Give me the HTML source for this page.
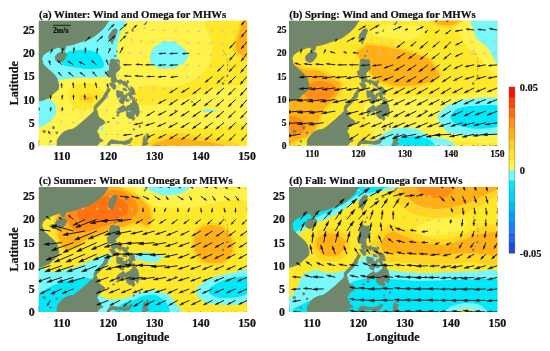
<!DOCTYPE html><html><head><meta charset="utf-8"><title>Wind and Omega for MHWs</title><style>html,body{margin:0;padding:0;background:#fff}svg{display:block}</style></head><body><svg width="550" height="351" viewBox="0 0 550 351"><rect width="550" height="351" fill="#fff"/><clipPath id="cpa"><rect x="38.8" y="20.8" width="208.3" height="125"/></clipPath><g clip-path="url(#cpa)"><rect x="37.8" y="19.8" width="210.3" height="127" fill="#fff34b"/><path d="M206,20C201.1,22.7 210.2,35.5 211,40C211.8,44.5 212.5,50.3 212,54C211.5,57.7 209.4,64.5 207,68C204.6,71.5 198.7,77.5 194,80C189.3,82.5 177.9,86.3 172,87C166.1,87.7 154.5,84.9 150,85C145.5,85.1 140.3,86.4 138,88C135.7,89.6 133,94.7 133,97C133,99.3 134,104.1 138,105C142,105.9 157,104.8 163,104C169,103.2 177.7,100.6 183,99C188.3,97.4 197.7,93.7 203,92C208.3,90.3 217,87.6 223,86C229,84.4 244.7,88.8 248,80C251.3,71.2 253.6,28 248,20C242.4,12 210.9,17.3 206,20Z" fill="#ffe82a"/><path d="M243.5,20C242.6,21.7 237.7,37.8 237,40C236.3,42.2 235.4,45.9 235.5,47C235.6,48.1 237.5,52.2 238.5,53C239.5,53.8 247.2,59.8 248,57C248.8,54.2 248.4,23.1 248,20C247.6,16.9 244.4,18.3 243.5,20Z" fill="#ffb016" stroke="#ffd422" stroke-width="6" stroke-linejoin="round" paint-order="stroke"/><path d="M135,147C120.6,145.4 138,137.1 140,135C142,132.9 146.9,132.2 150,131.5C153.1,130.8 158.6,130.3 163,130C167.4,129.7 177.7,129.3 183,129C188.3,128.7 197.7,128.3 203,128C208.3,127.7 217,127.4 223,127C229,126.6 244.7,122.3 248,125C251.3,127.7 263.1,144.1 248,147C232.9,149.9 149.4,148.6 135,147Z" fill="#ffe82a"/><path d="M146,147C134.8,146.1 149.5,141.7 152,140C154.5,138.3 161.3,135.4 165,134.5C168.7,133.6 175.3,132.8 180,133C184.7,133.2 195.3,135.3 200,136C204.7,136.7 210.7,137.2 215,138C219.3,138.8 229.2,140.8 232,142C234.8,143.2 247.5,146.3 236,147C224.5,147.7 157.2,147.9 146,147Z" fill="#ffd422"/><path d="M153,147C144.6,146.1 159.8,141.8 163,140.5C166.2,139.2 173,137.6 177,137.5C181,137.4 188.7,139.4 193,140C197.3,140.6 204.6,141.1 209,142C213.4,142.9 233.5,146.3 226,147C218.5,147.7 161.4,147.9 153,147Z" fill="#ffb016"/><path d="M200.5,110.5C200.5,110.2 207.5,109.2 209,109.2C210.5,109.2 218,110.7 218,111C218,111.3 210.5,112.6 209,112.6C207.5,112.6 200.5,110.8 200.5,110.5Z" fill="#78f8fa"/><path d="M149.8,56C149.9,55.3 152.5,48.6 153,48C153.5,47.4 161.4,42.3 162.2,42C163,41.7 172.2,41 173,41.2C173.8,41.4 180.3,45.5 181,46C181.7,46.5 188.8,53.3 189,54C189.2,54.7 185.6,61.4 185,62C184.4,62.6 176.1,67.7 175,68C173.9,68.3 160,68.7 159,68.5C158,68.3 151.4,64.5 151,64C150.6,63.5 149.7,56.7 149.8,56Z" fill="#78f8fa"/><path d="M109,20C117.8,20 125.2,19 126.5,20C127.8,21 122.4,28 121.6,30C120.8,32 118.9,38 118.4,40C117.9,42 117.1,48.1 117,50C116.9,51.9 117.8,57.4 117.6,59C117.4,60.6 115.6,64.5 115,66C114.4,67.5 112.7,73 112,74C111.3,75 109.4,76.2 108,76.5C106.6,76.8 101,77.2 98,77.4C95,77.6 81.4,77.8 78,78C74.6,78.2 66.1,79 64,79.2C61.9,79.4 59.6,79.9 57,80C54.4,80.1 39.9,86 38,80C36.1,74 30.9,26 38,20C45.1,14 100.2,20 109,20Z" fill="#78f8fa"/><path d="M62,61C62.5,59.4 65.4,53.3 68,52C70.6,50.7 80.5,49.9 84,50C87.5,50.1 95.7,51.5 98,53C100.3,54.5 103.5,61.2 104,63C104.5,64.8 103.9,67.3 102,68C100.1,68.7 91.5,69.1 88,69C84.5,68.9 74.8,67.4 72,67C69.2,66.6 65.2,66.3 64,65.6C62.8,64.9 61.5,62.6 62,61Z" fill="#00e8fa"/><path d="M38,101C39.4,97.8 47.9,99.4 50,100C52.1,100.6 55.4,104.1 56,106C56.6,107.9 55.9,114 55,116C54.1,118 50,121.7 48,123C46,124.3 39.2,129.6 38,127C36.8,124.4 36.6,104.2 38,101Z" fill="#78f8fa"/><path d="M99.5,127C99.7,126.9 103.8,127.3 104,127.5C104.2,127.7 103.2,130.4 103,130.5C102.8,130.6 100.2,130.2 100,130C99.8,129.8 99.3,127.1 99.5,127Z" fill="#78f8fa"/><path d="M68,92C68.8,90 72.3,86.2 75,85C77.7,83.8 84.7,82.7 88,83C91.3,83.3 97.7,85.3 100,87C102.3,88.7 105.5,93.5 105,96C104.5,98.5 98.8,104.1 96,106C93.2,107.9 86.9,109.9 84,110C81.1,110.1 76,108.3 74,107C72,105.7 69.8,102 69,100C68.2,98 67.2,94 68,92Z" fill="#ffe82a"/><path d="M79,98C79.1,96.9 82.4,94 84,93.5C85.6,93 89.4,93.3 91,94C92.6,94.7 96.1,97.4 96,98.5C95.9,99.6 91.7,102 90,102.5C88.3,103 84.5,102.6 83,102C81.5,101.4 78.9,99.1 79,98Z" fill="#ffd422"/><path d="M83,98.5C83,98.2 86.2,97 87,97C87.8,97 92,98.2 92,98.5C92,98.8 87.8,100 87,100C86.2,100 83,98.8 83,98.5Z" fill="#ffb016"/><path d="M38.8,16.2L111.5,16.2L109.2,19.9L106.9,23.6L104.1,27.7L100.8,31L96.2,34.7L91.6,37.9L87.4,39.8L82.8,41.2L78.6,42.6L74.9,43.9L69.8,45.3L66.1,45.8L65.2,48.1L64.7,50.4L61.9,50.9L61,49L60.6,47.2L57.3,47.6L53.2,49L49,50.9L45.3,53.2L43,55.5L41.8,58.3L42.7,63.4L44.8,66.2L47.1,68L49.4,70.3L52,72.4L54.5,75L56.9,78.2L58,81.9L58.9,86.1L58.2,89.3L56.4,91.2L54.5,92.6L51.8,95.3L49,97.9L45.7,99L43,100.2L40.2,100.9L38.8,100.9ZM55.2,56.9L57.3,53.9L60.6,52.3L64.7,52L66.8,54.6L65.2,58.3L62.9,61.1L59.6,62.5L55.9,60.6ZM112.9,29.8L115.4,28.7L117.3,30.1L116.8,32.4L115.7,35.1L114.7,38.8L112.9,41.6L112.2,44.2L111.3,42.6L109.4,40.2L108.7,37.5L109.6,34.2L111.5,31.9ZM110.6,59.7L112.9,59L115.7,60.1L118.9,59.7L119.6,62.9L119.1,65.7L120.3,67.1L119.4,69.9L117,71.7L115.7,73.1L115.7,76.4L116.4,79.6L118.4,80.5L120.3,79.6L122.1,81L124.5,81.4L126.3,82.1L127.5,85.1L127.2,87.5L125.4,86.1L123.5,85.1L121.7,82.8L119.8,83.3L120.3,84.7L118.4,82.8L116.6,81.4L114.3,82.8L111.5,81.7L111,79.1L112.6,78.2L111,77L108.9,77.3L107.8,74.5L107.1,71.3L108.2,70.6L109.6,71.5L109.6,68.5L109.6,64.8ZM109.2,83.3L112.9,82.8L115.7,85.1L115.7,88.4L113.8,89.5L112,87.5L110.6,85.6ZM127.7,87.2L132.3,87L134.2,89.8L135.1,94.4L131.9,94.6L130.9,92.6L129.1,90.2ZM128.2,92.6L131.2,93L131.9,95.3L132.8,98.6L130.9,99.7L130,97.2L128.6,95.3ZM123.1,87.9L126.3,89.1L127,90.9L124.9,90.2L123.1,90.2ZM116.6,90.5L119.8,91.2L123.1,92.1L122.6,94.9L120.8,96.7L117.5,97.9L116.8,94.9ZM121.2,94.6L124.7,95.1L124,99.5L123.3,104.1L120.1,102.7L119.1,100L121,98.1ZM126.8,93.2L127.5,95.3L125.6,99.5L123.5,102.5L123.5,100L124.9,96.7ZM125.8,99.7L128.2,98.8L129.5,100.4L128.2,101.4L126.1,101.1ZM93.9,109.7L94.4,106.4L97.1,103.2L100.4,100L103.2,96.7L104.5,93.9L106.4,91.2L107.8,88.6L110.1,88.9L109.6,91.2L107.8,93.5L107.1,97.2L104.5,99.5L102.2,102.3L99.5,105.1L97.1,107.4L95.3,109.7ZM107.3,88.9L109.6,89.3L109.2,90.7L107.6,90.5ZM132.8,99.5L135.6,101.4L137.9,104.6L138.8,109.2L139.3,112.9L137.4,117.1L136,114.8L134.9,113.4L133.7,115.7L134.9,118.5L133.3,120.6L131.9,118.7L129.1,118.3L126.8,116.2L126.3,112.9L127.2,111.5L124.9,110.6L123.1,111.8L120.8,112L118,114.5L116.8,112.5L117.5,109.2L120.8,106.9L123.5,105.3L125.8,107.4L128.2,105.5L130.2,105.5L130.2,103.7L132.3,103.4ZM116.6,115L118.9,115L118.4,115.9L116.8,115.9ZM112.4,117.8L114.7,118L114.3,118.7L112.4,118.5ZM107.3,121.5L109.4,121.7L109.2,122.4L107.3,122.2ZM56.9,150.4L57.3,140L59.2,137L62.9,132.6L68,130.1L73.1,129.1L77,126.4L80.9,123.1L85.1,119.6L89,115.9L92.5,112.9L94.6,110.1L96.7,109.7L97.6,113.2L98.5,116.6L100.8,118.7L104.1,120.8L105,122.7L102.2,125L99,126.4L98.1,129.1L96.7,131.4L99,135.2L99,137.5L103.2,140.7L99.9,142.1L97.6,144.9L96.7,150.4ZM106.9,150.4L107.3,144.9L108.7,142.1L111.5,139.8L114.7,140.5L119.4,141.2L123.5,141.4L128.2,140.2L131.4,137.7L132.6,138.9L129.5,143.5L124.9,144.4L119.8,143.5L114.7,143.5L111,143.5L109.2,145.8L108.7,150.4ZM142.5,150.4L143,141.6L143.4,137.9L144.8,135.6L145.5,138.4L148.5,138.6L146.7,141.6L148.5,143.9L146.2,144.4L145.1,150.4ZM146.2,134.2L148.1,133.8L148.5,136.1L146.7,136.5ZM139.3,125.4L140.2,125L140.2,127.7L139.3,127.3ZM133.3,128.7L134.4,128.7L134.2,130.3L133.3,130.1ZM52.7,126.4L54.5,126.8L54.3,128.7L52.7,128.7ZM43,130.5L45.3,130.5L45.3,132.4L43,132.4ZM55.9,131.9L57.8,131.9L57.3,133.8L55.9,133.3ZM49.9,140.7L51.3,140.7L51.3,142.1L49.9,142.1ZM38.3,140.2L38.8,140.2L38.8,150.4L38.3,150.4ZM155.9,145.6L160.6,145.8L160.6,150.4L155.9,150.4ZM116.6,50.9L117.5,50.9L117.5,51.8L116.6,51.8ZM114.3,55.5L115.7,55.5L115.4,56.7L114.3,56.4ZM143.9,24.5L146.7,21.5L146.7,22.6L144.8,25ZM132.3,30.5L133.7,30.7L133.3,31.4L132.3,31.2ZM125.4,32.6L128.2,32.1L127.7,33.3L125.6,33.5ZM222.1,82.8L223.8,82.8L223.5,84.5L222.4,84.5ZM227,75L227.9,75L227.7,76.4L226.8,76.4ZM174.9,110.1L176.3,110.1L175.8,112L174.9,112ZM191.6,101.4L192.7,101.4L192.5,102.3L191.6,102.3ZM127,80.5L128.6,81L128.2,83.1L127,82.8ZM135.8,99.5L136.7,99.5L136.5,100.9L135.8,100.9ZM133.7,97.6L134.6,97.6L134.4,99.7L133.7,99.7ZM224.8,80.1L225,80.1L225,80.5L224.8,80.5ZM226.8,76.4L227,76.4L227,76.8L226.8,76.8ZM227.1,69.9L227.3,69.9L227.3,70.3L227.1,70.3ZM227.6,68.3L227.8,68.3L227.8,68.7L227.6,68.7ZM227.8,65.5L228,65.5L228,65.9L227.8,65.9ZM227.6,64.1L227.8,64.1L227.8,64.5L227.6,64.5ZM227.6,61.8L227.8,61.8L227.8,62.2L227.6,62.2ZM226.9,58.7L227.1,58.7L227.1,59.1L226.9,59.1ZM225.8,54.4L225.9,54.4L225.9,54.8L225.8,54.8ZM224.8,53L225,53L225,53.4L224.8,53.4ZM223.4,50.7L223.6,50.7L223.6,51.1L223.4,51.1Z" fill="#70876c" stroke="#70876c" stroke-width="0.9" stroke-linejoin="round"/><path d="M38.8,145.8L38.2,144.7M50.4,145.8L49.7,144.9M108.2,145.8L106.5,145.7M119.8,145.8L118,146M38.8,134.2L38.1,132.9M108.2,134.2L106.7,134.3M119.8,134.2L118,134.4M38.8,122.7L38.5,121.2M50.4,122.7L50,121.3M61.9,122.7L61.8,122.2M73.5,122.7L74,122.8M108.2,122.7L107,123.1M119.8,122.7L118,122.8M131.4,122.7L129.6,123M73.5,111.1L73.3,109.5M85.1,111.1L84.9,109.7M108.2,111.1L107.3,110.6M119.8,111.1L118.1,110.6M131.4,111.1L129.6,111.2M143,111.1L141.3,111.7M108.2,99.5L107.3,98.2M119.8,99.5L118.5,99.1M131.4,99.5L129.6,99.2M143,99.5L141.2,99.8M154.6,99.5L152.9,100.2M119.8,87.9L118.5,86.7M131.4,87.9L129.6,87.6M143,87.9L141.2,87.8M154.6,87.9L152.8,88.2M166.1,87.9L164.4,88.5M119.8,76.4L118.4,75.3M189.3,76.4L187.6,76.9M200.8,76.4L199.3,77.3M119.8,64.8L118.8,63.3M189.3,64.8L187.5,65M200.8,64.8L199.2,65.4M212.4,64.8L211,65.9M131.4,53.2L129.6,53.1M143,53.2L141.2,53M154.6,53.2L152.8,53.3M200.8,53.2L199.1,53.7M212.4,53.2L211.1,54.4M224,53.2L222.8,54.6M131.4,41.6L131.6,39.9M143,41.6L142,41.2M154.6,41.6L153.2,42.1M166.1,41.6L164.3,41.8M177.7,41.6L175.9,41.9M189.3,41.6L187.7,42.6M200.8,41.6L199.2,42.4M212.4,41.6L211,42.8M224,41.6L222.7,42.9M143,30.1L144.2,28.7M154.6,30.1L153.8,30.1M166.1,30.1L164.3,30.2M177.7,30.1L175.9,30.4M189.3,30.1L187.7,30.8M200.8,30.1L199.3,30.9M212.4,30.1L211.1,31.2M224,30.1L222.7,31.3M235.6,30.1L234.3,31.4M143,18.5L144.2,17.2M154.6,18.5L154.5,18.4M166.1,18.5L165,18.3M177.7,18.5L175.9,18.7M189.3,18.5L187.6,19.1M200.8,18.5L199.3,19.3M212.4,18.5L211,19.6M224,18.5L222.7,19.7M235.6,18.5L234.3,19.8" stroke="#c4c4bc" stroke-width="0.65" fill="none"/><path d="M37.1,142.9L38.8,144.4L37.6,145.1ZM48.5,143.2L50.3,144.4L49.1,145.3ZM104.4,145.6L106.5,145L106.4,146.4ZM115.9,146.2L118,145.3L118.1,146.7ZM37.2,131.1L38.8,132.6L37.5,133.3ZM104.6,134.5L106.6,133.6L106.7,135ZM115.9,134.7L118,133.7L118.1,135.1ZM38,119.1L39.2,121L37.8,121.3ZM49.4,119.3L50.6,121.1L49.3,121.5ZM61.1,120.2L62.4,121.9L61.1,122.4ZM71.9,122.2L74.2,122.1L73.8,123.4ZM105,123.7L106.7,122.4L107.2,123.7ZM115.9,123L118,122.1L118.1,123.5ZM127.6,123.3L129.5,122.3L129.7,123.6ZM73.1,107.4L74,109.4L72.6,109.6ZM84.5,107.7L85.5,109.6L84.2,109.8ZM105.5,109.6L107.6,110L107,111.2ZM116.1,110.1L118.3,109.9L118,111.3ZM127.5,111.4L129.6,110.5L129.7,111.9ZM139.3,112.3L141,111L141.5,112.3ZM106.1,96.5L107.9,97.8L106.7,98.6ZM116.5,98.4L118.8,98.4L118.3,99.7ZM127.6,98.8L129.7,98.5L129.5,99.9ZM139.1,100.2L141.1,99.2L141.3,100.5ZM151,101L152.6,99.6L153.2,100.8ZM116.9,85.3L118.9,86.2L118,87.3ZM127.6,87.2L129.8,86.9L129.5,88.3ZM139.1,87.8L141.2,87.1L141.1,88.5ZM150.7,88.4L152.7,87.5L152.9,88.9ZM162.4,89.1L164.2,87.8L164.6,89.2ZM116.7,74.1L118.8,74.7L118,75.9ZM185.6,77.6L187.3,76.3L187.8,77.6ZM197.5,78.4L199,76.7L199.7,77.9ZM117.6,61.6L119.4,62.9L118.2,63.7ZM185.4,65.4L187.4,64.4L187.6,65.7ZM197.2,66.2L198.9,64.8L199.4,66.1ZM209.4,67.2L210.6,65.4L211.5,66.4ZM127.5,52.9L129.7,52.4L129.5,53.7ZM139.1,52.8L141.3,52.3L141.1,53.7ZM150.7,53.4L152.7,52.6L152.8,54ZM197.1,54.2L198.9,53L199.3,54.4ZM209.5,55.8L210.6,53.9L211.6,54.9ZM221.5,56.2L222.3,54.1L223.4,55ZM131.8,37.9L132.3,40L130.9,39.9ZM140.1,40.5L142.3,40.6L141.7,41.9ZM151.2,42.7L153,41.4L153.4,42.7ZM162.2,42L164.3,41.1L164.4,42.5ZM173.8,42.2L175.8,41.2L176,42.6ZM186,43.7L187.4,42L188.1,43.2ZM197.3,43.3L198.9,41.8L199.5,43ZM209.4,44.1L210.6,42.2L211.5,43.3ZM221.3,44.4L222.2,42.4L223.2,43.4ZM145.6,27.1L144.7,29.2L143.7,28.2ZM151.7,30.1L153.8,29.4L153.8,30.8ZM162.2,30.3L164.3,29.5L164.4,30.9ZM173.9,30.9L175.8,29.7L176.1,31.1ZM185.8,31.8L187.4,30.2L188,31.5ZM197.4,31.9L198.9,30.3L199.6,31.5ZM209.5,32.6L210.6,30.7L211.5,31.8ZM221.2,32.8L222.2,30.8L223.2,31.8ZM232.9,32.9L233.8,30.9L234.9,31.8ZM145.7,15.7L144.7,17.7L143.7,16.7ZM154,16.3L155.2,18.2L153.8,18.5ZM162.9,18L165.1,17.6L164.9,19ZM173.8,19L175.8,18L176,19.4ZM185.6,19.8L187.3,18.4L187.8,19.7ZM197.4,20.3L198.9,18.7L199.6,20ZM209.4,21L210.6,19.1L211.5,20.2ZM221.2,21.2L222.2,19.2L223.2,20.2ZM232.8,21.3L233.8,19.3L234.8,20.3Z" fill="#c4c4bc" stroke="#c4c4bc" stroke-width="0.45" stroke-linejoin="round"/><path d="M131.4,145.8L126.6,146.6M143,145.8L138.6,148M154.6,145.8L150.6,149.1M166.1,145.8L161.9,148.7M177.7,145.8L173.1,148.6M189.3,145.8L185,149.4M200.8,145.8L196.9,149.8M212.4,145.8L208.2,149.6M224,145.8L219.7,149.6M235.6,145.8L232,149.7M247.1,145.8L243.8,149.8M50.4,134.2L49.4,132.7M131.4,134.2L126.1,134.9M143,134.2L137.8,135.6M154.6,134.2L149.6,136.5M166.1,134.2L161.1,136.8M177.7,134.2L172.3,137.3M189.3,134.2L184.3,137.6M200.8,134.2L196,138M212.4,134.2L207.6,138.1M224,134.2L219.1,138.3M235.6,134.2L231.3,138.4M247.1,134.2L243.4,138.5M143,122.7L137,124M154.6,122.7L148.6,124.6M166.1,122.7L160.6,125.2M177.7,122.7L171.8,126M189.3,122.7L183.8,126.1M200.8,122.7L195.2,126.6M212.4,122.7L207.2,126.6M224,122.7L218.7,126.9M235.6,122.7L231,127M247.1,122.7L243.2,127.3M38.8,111.1L38.8,109.3M50.4,111.1L50.6,109.4M61.9,111.1L62.2,109.4M154.6,111.1L149.3,114.4M166.1,111.1L160.8,113.8M177.7,111.1L172.2,114.2M189.3,111.1L183.9,114.5M200.8,111.1L195.4,114.9M212.4,111.1L207.2,115.1M224,111.1L218.9,115.4M235.6,111.1L230.8,115.5M247.1,111.1L242.8,115.8M50.4,99.5L50.7,97.3M61.9,99.5L62.3,96.8M73.5,99.5L73.5,96.8M85.1,99.5L84.8,96.8M96.7,99.5L96.4,97.3M166.1,99.5L161,102.1M177.7,99.5L172.1,103.1M189.3,99.5L183.9,103M200.8,99.5L195.2,103.8M212.4,99.5L207.2,103.6M224,99.5L218.7,104.1M235.6,99.5L230.7,104.2M247.1,99.5L242.5,104.8M61.9,87.9L61.6,85.2M73.5,87.9L73.2,84.7M85.1,87.9L84.8,84.7M96.7,87.9L96,84.7M108.2,87.9L107.7,85.7M177.7,87.9L172.4,91.2M189.3,87.9L184.1,91M200.8,87.9L195.6,91.9M212.4,87.9L207.3,91.9M224,87.9L219.1,92.3M235.6,87.9L230.9,92.6M247.1,87.9L242.5,93M61.9,76.4L59.6,73.7M73.5,76.4L70.2,73.7M85.1,76.4L81.8,73.7M96.7,76.4L94,73.4M108.2,76.4L106.3,73.4M131.4,76.4L126.8,76M143,76.4L137.7,76M154.6,76.4L149.5,76.5M166.1,76.4L160.9,76.7M177.7,76.4L173.1,77M212.4,76.4L207.7,80.3M224,76.4L219.4,81M235.6,76.4L231,81.1M247.1,76.4L242.5,81.6M50.4,64.8L49.7,62.4M61.9,64.8L59.3,62.1M73.5,64.8L69.9,62.5M85.1,64.8L81.1,62.8M96.7,64.8L93.4,62.1M108.2,64.8L106.9,61.5M131.4,64.8L126.1,64.8M143,64.8L138.4,64.5M154.6,64.8L148.6,64.8M166.1,64.8L161.1,65.1M177.7,64.8L172.4,65.1M224,64.8L219.7,69.1M235.6,64.8L231.3,69.4M247.1,64.8L242.9,69.8M50.4,53.2L51.6,50.8M61.9,53.2L62.6,50M73.5,53.2L73.9,49.6M85.1,53.2L85.4,49.6M96.7,53.2L97.3,50M108.2,53.2L109.6,49.9M119.8,53.2L121.8,49.2M166.1,53.2L161.4,53.5M177.7,53.2L172.4,53.5M189.3,53.2L184.7,53.5M235.6,53.2L231.6,57.9M247.1,53.2L243.2,58.5M85.1,41.6L88.4,38.3M96.7,41.6L100.6,38M108.2,41.6L112.9,37.7M119.8,41.6L123.8,37.7M235.6,41.6L231.6,46M247.1,41.6L243.2,46.4M108.2,30.1L112.2,26.2M119.8,30.1L124.6,26M131.4,30.1L134.8,26.9M247.1,30.1L243.2,34.7M119.8,18.5L124.4,14.5M131.4,18.5L134.9,15.3M247.1,18.5L243.2,22.9" stroke="#101010" stroke-width="0.95" fill="none"/><path d="M123.9,147.1L126.5,145.8L126.8,147.4ZM136.1,149.3L138.3,147.3L139,148.7ZM148.3,151L150.1,148.5L151.1,149.7ZM159.4,150.3L161.4,148L162.3,149.3ZM170.4,150.3L172.6,148L173.5,149.3ZM182.6,151.5L184.5,148.8L185.5,150ZM194.6,152L196.3,149.2L197.5,150.3ZM205.8,151.8L207.7,149L208.8,150.2ZM217.2,151.7L219.1,149L220.2,150.2ZM229.9,152L231.4,149.2L232.5,150.3ZM242,152L243.2,149.2L244.5,150.3ZM48.2,131L50.1,132.3L48.7,133.2ZM123.1,135.3L126,134.1L126.2,135.7ZM134.8,136.4L137.6,134.8L138,136.4ZM146.7,137.8L149.2,135.8L149.9,137.2ZM158.2,138.2L160.7,136L161.4,137.5ZM169.2,139L171.9,136.5L172.7,138ZM181.4,139.6L183.8,137L184.7,138.3ZM193.3,140.2L195.5,137.4L196.6,138.7ZM204.8,140.3L207,137.4L208.1,138.7ZM216.3,140.6L218.5,137.6L219.6,139ZM228.9,140.7L230.8,137.8L231.9,138.9ZM241.3,140.9L242.8,137.9L244,139ZM133.7,124.7L136.9,123.2L137.2,124.8ZM145.3,125.7L148.3,123.8L148.9,125.4ZM157.4,126.6L160.2,124.4L160.9,126ZM168.4,127.8L171.3,125.1L172.2,126.8ZM180.7,128L183.3,125.3L184.2,126.9ZM192.1,128.8L194.7,125.8L195.8,127.4ZM204.2,128.9L206.6,125.9L207.7,127.4ZM215.8,129.3L218.1,126.2L219.3,127.7ZM228.4,129.5L230.4,126.4L231.6,127.6ZM241,129.9L242.6,126.7L243.8,127.8ZM38.8,107.2L39.6,109.3L38,109.3ZM50.9,107.3L51.4,109.5L49.8,109.2ZM62.5,107.3L63,109.5L61.4,109.2ZM146.3,116.2L148.8,113.7L149.7,115.1ZM157.9,115.3L160.5,113.1L161.2,114.5ZM169.1,116L171.8,113.5L172.6,115ZM180.9,116.4L183.4,113.7L184.4,115.2ZM192.4,117.1L194.9,114.2L196,115.7ZM204.3,117.3L206.7,114.4L207.7,115.8ZM216,117.8L218.3,114.7L219.5,116.1ZM228.2,118.1L230.2,114.9L231.5,116.2ZM240.3,118.5L242.1,115.3L243.4,116.4ZM50.9,95.2L51.4,97.4L49.9,97.2ZM62.5,94.7L63,96.9L61.5,96.7ZM73.5,94.7L74.3,96.8L72.7,96.8ZM84.6,94.7L85.6,96.7L84,96.9ZM96.1,95.2L97.2,97.2L95.6,97.4ZM158,103.6L160.6,101.4L161.3,102.9ZM168.9,105.2L171.6,102.4L172.6,103.9ZM180.9,105L183.4,102.3L184.4,103.7ZM192.1,106.2L194.7,103L195.8,104.6ZM204.2,106L206.6,102.9L207.7,104.4ZM215.8,106.7L218.1,103.4L219.3,104.8ZM228,106.9L230.1,103.6L231.4,104.9ZM240,107.7L241.8,104.2L243.2,105.4ZM61.4,83.1L62.4,85.1L60.9,85.3ZM73,82.6L74,84.6L72.4,84.8ZM84.6,82.6L85.6,84.6L84,84.8ZM95.6,82.6L96.8,84.5L95.2,84.8ZM107.2,83.6L108.5,85.5L106.9,85.9ZM169.4,93.1L172,90.5L172.9,91.9ZM181.2,92.7L183.7,90.3L184.5,91.7ZM192.6,94.1L195,91.2L196.1,92.6ZM204.5,94.1L206.8,91.2L207.9,92.6ZM216.4,94.8L218.5,91.7L219.7,93ZM228.2,95.2L230.2,91.9L231.5,93.2ZM240,95.8L241.9,92.3L243.2,93.6ZM58.3,72.1L60.2,73.2L59,74.2ZM68.3,72.2L70.7,73.1L69.7,74.3ZM79.9,72.2L82.3,73.1L81.3,74.3ZM92.5,71.6L94.6,72.8L93.4,73.9ZM105.1,71.6L106.9,72.9L105.6,73.8ZM124.1,75.8L126.8,75.2L126.7,76.8ZM134.7,75.8L137.8,75.2L137.7,76.8ZM146.6,76.6L149.5,75.7L149.5,77.3ZM157.8,76.9L160.8,75.9L160.9,77.5ZM170.4,77.4L173,76.2L173.2,77.8ZM205.1,82.5L207.2,79.6L208.3,80.9ZM216.8,83.6L218.8,80.3L220,81.6ZM228.4,83.7L230.4,80.5L231.6,81.7ZM240,84.6L241.8,81L243.2,82.3ZM49.1,60.3L50.5,62.1L48.9,62.6ZM57.7,60.6L59.9,61.6L58.7,62.7ZM67.8,61.1L70.3,61.8L69.5,63.1ZM78.8,61.6L81.5,62.1L80.8,63.5ZM91.4,60.6L93.9,61.5L92.9,62.8ZM106.1,59.5L107.7,61.2L106.2,61.8ZM123.1,64.8L126.1,64L126.1,65.6ZM135.7,64.3L138.5,63.7L138.3,65.3ZM145.2,64.8L148.6,64L148.6,65.6ZM158.1,65.3L161,64.3L161.1,65.9ZM169.4,65.3L172.4,64.3L172.5,65.9ZM217.3,71.6L219.1,68.5L220.3,69.7ZM228.9,72L230.7,68.8L231.9,70ZM240.5,72.6L242.2,69.2L243.6,70.4ZM52.5,48.9L52.3,51.2L50.9,50.5ZM63,47.9L63.4,50.1L61.8,49.8ZM74.1,47.4L74.7,49.6L73.1,49.5ZM85.6,47.4L86.2,49.6L84.6,49.5ZM97.7,47.9L98.1,50.1L96.5,49.8ZM110.4,47.9L110.3,50.2L108.8,49.6ZM123,46.9L122.5,49.6L121.1,48.9ZM158.7,53.7L161.4,52.7L161.5,54.3ZM169.4,53.7L172.4,52.7L172.5,54.3ZM182,53.7L184.6,52.7L184.7,54.3ZM229.3,60.5L230.9,57.3L232.2,58.4ZM241,61.4L242.5,57.9L243.9,59ZM90.3,36.4L89,38.9L87.8,37.8ZM102.9,35.9L101.2,38.6L100.1,37.4ZM115.5,35.4L113.4,38.3L112.3,37ZM126,35.4L124.4,38.2L123.2,37.1ZM229.4,48.4L231,45.4L232.2,46.5ZM240.9,49.1L242.5,45.8L243.8,46.9ZM114.4,24.1L112.7,26.8L111.6,25.7ZM127.2,23.6L125.1,26.6L124,25.3ZM136.8,25L135.4,27.4L134.3,26.3ZM241,37.3L242.6,34.1L243.8,35.2ZM127,12.2L125,15.1L123.9,13.8ZM136.9,13.4L135.4,15.9L134.3,14.7ZM241,25.4L242.6,22.3L243.8,23.4Z" fill="#101010" stroke="#101010" stroke-width="0.45" stroke-linejoin="round"/></g><clipPath id="cpb"><rect x="289" y="20.8" width="208.4" height="125"/></clipPath><g clip-path="url(#cpb)"><rect x="288" y="19.8" width="210.4" height="127" fill="#ffe82a"/><path d="M455,20C449.9,22 458.3,31.3 460,35C461.7,38.7 465.3,44.9 468,48C470.7,51.1 477.3,55.3 480,58C482.7,60.7 485.6,66.1 488,68C490.4,69.9 496.7,78.4 498,72C499.3,65.6 503.7,26.9 498,20C492.3,13.1 460.1,18 455,20Z" fill="#fff34b"/><path d="M372,30C373.2,28.5 378.6,25.5 385,25C391.4,24.5 414.8,25.1 420,26C425.2,26.9 425.3,30.1 424,32C422.7,33.9 414.5,39.2 410,40C405.5,40.8 394.5,38.5 390,38C385.5,37.5 378.4,37.1 376,36C373.6,34.9 370.8,31.5 372,30Z" fill="#fff34b"/><path d="M357.3,53C357.7,51.9 365.4,45.4 367.3,45C369.2,44.6 383.7,46.5 386.5,47C389.3,47.5 407.2,51.6 410,52.4C412.8,53.2 426.5,57.3 428.5,58.8C430.5,60.3 439.3,72.8 439.4,74.3C439.5,75.8 431.7,80.9 430.3,81.6C428.9,82.3 421,84.7 419,85C417,85.3 402.3,86.1 400,86C397.7,85.9 386.7,83.5 385,83C383.3,82.5 376.1,78.9 375,78C373.9,77.1 368.9,71.1 368,70C367.1,68.9 361.7,62.1 361,61C360.3,59.9 356.9,54.1 357.3,53Z" fill="#ffb016" stroke="#ffd422" stroke-width="5" stroke-linejoin="round" paint-order="stroke"/><path d="M288,68C290.3,58.7 300.9,69.6 305,70C309.1,70.4 315,69.7 319,71C323,72.3 332.1,78.3 335,80C337.9,81.7 340.5,82.4 341,84C341.5,85.6 340.1,89.9 339,92C337.9,94.1 335.1,97.6 333,100C330.9,102.4 324.9,107.3 323,110C321.1,112.7 320.1,117.3 319,120C317.9,122.7 316.6,127.8 315,130C313.4,132.2 309.3,135.3 307,136.5C304.7,137.7 300.5,138.6 298,139C295.5,139.4 289.3,149 288,139.5C286.7,130 285.7,77.3 288,68Z" fill="#ffb016" stroke="#ffd422" stroke-width="5" stroke-linejoin="round" paint-order="stroke"/><path d="M309,84C311.3,82.5 316.9,81 320,81C323.1,81 329.9,82.8 332,84C334.1,85.2 336.3,88.1 336,90C335.7,91.9 332.4,96.4 330,98C327.6,99.6 320.9,102 318,102C315.1,102 310,99.3 308,98C306,96.7 302.9,93.9 303,92C303.1,90.1 306.7,85.5 309,84Z" fill="#ff8e12"/><path d="M288,117C289.3,114.6 295.6,117.2 298,118C300.4,118.8 305.2,121.3 306,123C306.8,124.7 305.3,129.3 304,131C302.7,132.7 298.1,134.8 296,135.5C293.9,136.2 289.1,138.5 288,136C286.9,133.5 286.7,119.4 288,117Z" fill="#ff8e12"/><path d="M434,20C432.2,20.3 436.7,23.5 438,24C439.3,24.5 448.2,25.8 450,25.5C451.8,25.2 461.3,20.5 460,20C458.7,19.5 435.8,19.7 434,20Z" fill="#ffb016" stroke="#ffd422" stroke-width="5" stroke-linejoin="round" paint-order="stroke"/><path d="M471,20C468.9,20.7 472.6,26.5 473,28C473.4,29.5 474.8,36.3 476,38C477.2,39.7 486.5,46.2 488,48C489.5,49.8 493.2,57.8 494,59C494.8,60.2 497.7,66.2 498,63C498.3,59.8 500.2,23.6 498,20C495.8,16.4 473.1,19.3 471,20Z" fill="#78f8fa"/><path d="M365,104C367.5,101.1 379,99 385,98C391,97 402.7,96.6 410,96.5C417.3,96.4 432.7,97.3 440,97C447.3,96.7 457.3,95 465,94.5C472.7,94 493.6,87.4 498,93.5C502.4,99.6 501.7,133.5 498,140C494.3,146.5 476.4,141.9 470,142C463.6,142.1 455.3,141.7 450,141C444.7,140.3 434.5,138.5 430,137C425.5,135.5 419.7,131.1 416,130C412.3,128.9 405.5,128.9 402,129C398.5,129.1 393.2,129.8 390,131C386.8,132.2 380.4,137.9 378,138C375.6,138.1 373.6,134.4 372,132C370.4,129.6 366.9,123.7 366,120C365.1,116.3 362.5,106.9 365,104Z" fill="#fff34b"/><path d="M437.4,115.7C438,114 445.7,106.3 448,105C450.3,103.7 460.4,100.2 464.6,99.7C468.8,99.2 495.2,95.9 498,98.7C500.8,101.5 500.8,130.4 498,133.5C495.2,136.6 468.8,135.9 464.6,135.8C460.4,135.7 450,133.2 448,132.3C446,131.4 441.9,126.4 441,125C440.1,123.6 436.8,117.4 437.4,115.7Z" fill="#78f8fa"/><path d="M450.4,115.7C450.9,114.7 455.9,109.4 457.5,108.6C459.1,107.8 465.9,106.5 469.3,106.3C472.7,106.1 495.6,104.1 498,105.8C500.4,107.5 500,124.5 498,126.4C496,128.3 477.4,128.8 474,128.7C470.6,128.6 459.4,125.9 457.5,125.2C455.6,124.5 452.2,121.3 451.6,120.5C451,119.7 449.9,116.7 450.4,115.7Z" fill="#00e8fa"/><path d="M372,147C363.4,146.1 374.9,141 377,139C379.1,137 387.1,131.3 390,130C392.9,128.7 399,128.1 402,128C405,127.9 412.7,128.1 416,129C419.3,129.9 426.3,134.7 430,136C433.7,137.3 445.6,138.7 448,140C450.4,141.3 459.9,146.2 451,147C442.1,147.8 380.6,147.9 372,147Z" fill="#78f8fa"/><path d="M392,147C387.7,146.2 394.8,141.1 396,140C397.2,138.9 399.7,138.5 402,138C404.3,137.5 412.7,135.8 416,136C419.3,136.2 428,138.7 430,140C432,141.3 437.4,146.2 433,147C428.6,147.8 396.3,147.8 392,147Z" fill="#00e8fa"/><path d="M289,16.2L361.7,16.2L359.4,19.9L357.1,23.6L354.3,27.7L351,31L346.4,34.7L341.8,37.9L337.6,39.8L333,41.2L328.8,42.6L325.1,43.9L320,45.3L316.3,45.8L315.4,48.1L314.9,50.4L312.1,50.9L311.2,49L310.8,47.2L307.5,47.6L303.4,49L299.2,50.9L295.5,53.2L293.2,55.5L292,58.3L292.9,63.4L295,66.2L297.3,68L299.6,70.3L302.2,72.4L304.7,75L307.1,78.2L308.2,81.9L309.1,86.1L308.4,89.3L306.6,91.2L304.7,92.6L302,95.3L299.2,97.9L295.9,99L293.2,100.2L290.4,100.9L289,100.9ZM305.4,56.9L307.5,53.9L310.8,52.3L314.9,52L317,54.6L315.4,58.3L313.1,61.1L309.8,62.5L306.1,60.6ZM363.1,29.8L365.6,28.7L367.5,30.1L367,32.4L365.9,35.1L364.9,38.8L363.1,41.6L362.4,44.2L361.5,42.6L359.6,40.2L358.9,37.5L359.8,34.2L361.7,31.9ZM360.8,59.7L363.1,59L365.9,60.1L369.1,59.7L369.8,62.9L369.3,65.7L370.5,67.1L369.6,69.9L367.2,71.7L365.9,73.1L365.9,76.4L366.6,79.6L368.6,80.5L370.5,79.6L372.3,81L374.7,81.4L376.5,82.1L377.7,85.1L377.4,87.5L375.6,86.1L373.7,85.1L371.9,82.8L370,83.3L370.5,84.7L368.6,82.8L366.8,81.4L364.5,82.8L361.7,81.7L361.2,79.1L362.8,78.2L361.2,77L359.1,77.3L358,74.5L357.3,71.3L358.4,70.6L359.8,71.5L359.8,68.5L359.8,64.8ZM359.4,83.3L363.1,82.8L365.9,85.1L365.9,88.4L364,89.5L362.2,87.5L360.8,85.6ZM377.9,87.2L382.5,87L384.4,89.8L385.3,94.4L382.1,94.6L381.1,92.6L379.3,90.2ZM378.4,92.6L381.4,93L382.1,95.3L383,98.6L381.1,99.7L380.2,97.2L378.8,95.3ZM373.3,87.9L376.5,89.1L377.2,90.9L375.1,90.2L373.3,90.2ZM366.8,90.5L370,91.2L373.3,92.1L372.8,94.9L371,96.7L367.7,97.9L367,94.9ZM371.4,94.6L374.9,95.1L374.2,99.5L373.5,104.1L370.3,102.7L369.3,100L371.2,98.1ZM377,93.2L377.7,95.3L375.8,99.5L373.7,102.5L373.7,100L375.1,96.7ZM376,99.7L378.4,98.8L379.7,100.4L378.4,101.4L376.3,101.1ZM344.1,109.7L344.6,106.4L347.3,103.2L350.6,100L353.4,96.7L354.7,93.9L356.6,91.2L358,88.6L360.3,88.9L359.8,91.2L358,93.5L357.3,97.2L354.7,99.5L352.4,102.3L349.7,105.1L347.3,107.4L345.5,109.7ZM357.5,88.9L359.8,89.3L359.4,90.7L357.8,90.5ZM383,99.5L385.8,101.4L388.1,104.6L389,109.2L389.5,112.9L387.6,117.1L386.2,114.8L385.1,113.4L383.9,115.7L385.1,118.5L383.5,120.6L382.1,118.7L379.3,118.3L377,116.2L376.5,112.9L377.4,111.5L375.1,110.6L373.3,111.8L371,112L368.2,114.5L367,112.5L367.7,109.2L371,106.9L373.7,105.3L376,107.4L378.4,105.5L380.4,105.5L380.4,103.7L382.5,103.4ZM366.8,115L369.1,115L368.6,115.9L367,115.9ZM362.6,117.8L364.9,118L364.5,118.7L362.6,118.5ZM357.5,121.5L359.6,121.7L359.4,122.4L357.5,122.2ZM307.1,150.4L307.5,140L309.4,137L313.1,132.6L318.2,130.1L323.3,129.1L327.2,126.4L331.1,123.1L335.3,119.6L339.2,115.9L342.7,112.9L344.8,110.1L346.9,109.7L347.8,113.2L348.7,116.6L351,118.7L354.3,120.8L355.2,122.7L352.4,125L349.2,126.4L348.3,129.1L346.9,131.4L349.2,135.2L349.2,137.5L353.4,140.7L350.1,142.1L347.8,144.9L346.9,150.4ZM357.1,150.4L357.5,144.9L358.9,142.1L361.7,139.8L364.9,140.5L369.6,141.2L373.7,141.4L378.4,140.2L381.6,137.7L382.8,138.9L379.7,143.5L375.1,144.4L370,143.5L364.9,143.5L361.2,143.5L359.4,145.8L358.9,150.4ZM392.7,150.4L393.2,141.6L393.6,137.9L395,135.6L395.7,138.4L398.7,138.6L396.9,141.6L398.7,143.9L396.4,144.4L395.3,150.4ZM396.4,134.2L398.3,133.8L398.7,136.1L396.9,136.5ZM389.5,125.4L390.4,125L390.4,127.7L389.5,127.3ZM383.5,128.7L384.6,128.7L384.4,130.3L383.5,130.1ZM302.9,126.4L304.7,126.8L304.5,128.7L302.9,128.7ZM293.2,130.5L295.5,130.5L295.5,132.4L293.2,132.4ZM306.1,131.9L308,131.9L307.5,133.8L306.1,133.3ZM300.1,140.7L301.5,140.7L301.5,142.1L300.1,142.1ZM288.5,140.2L289,140.2L289,150.4L288.5,150.4ZM406.1,145.6L410.8,145.8L410.8,150.4L406.1,150.4ZM366.8,50.9L367.7,50.9L367.7,51.8L366.8,51.8ZM364.5,55.5L365.9,55.5L365.6,56.7L364.5,56.4ZM394.1,24.5L396.9,21.5L396.9,22.6L395,25ZM382.5,30.5L383.9,30.7L383.5,31.4L382.5,31.2ZM375.6,32.6L378.4,32.1L377.9,33.3L375.8,33.5ZM472.3,82.8L474,82.8L473.7,84.5L472.6,84.5ZM477.2,75L478.1,75L477.9,76.4L477,76.4ZM425.1,110.1L426.5,110.1L426,112L425.1,112ZM441.8,101.4L442.9,101.4L442.7,102.3L441.8,102.3ZM377.2,80.5L378.8,81L378.4,83.1L377.2,82.8ZM386,99.5L386.9,99.5L386.7,100.9L386,100.9ZM383.9,97.6L384.8,97.6L384.6,99.7L383.9,99.7ZM475,80.1L475.2,80.1L475.2,80.5L475,80.5ZM477,76.4L477.2,76.4L477.2,76.8L477,76.8ZM477.3,69.9L477.5,69.9L477.5,70.3L477.3,70.3ZM477.8,68.3L478,68.3L478,68.7L477.8,68.7ZM478,65.5L478.2,65.5L478.2,65.9L478,65.9ZM477.8,64.1L478,64.1L478,64.5L477.8,64.5ZM477.8,61.8L478,61.8L478,62.2L477.8,62.2ZM477.1,58.7L477.3,58.7L477.3,59.1L477.1,59.1ZM476,54.4L476.1,54.4L476.1,54.8L476,54.8ZM475,53L475.2,53L475.2,53.4L475,53.4ZM473.6,50.7L473.8,50.7L473.8,51.1L473.6,51.1Z" fill="#70876c" stroke="#70876c" stroke-width="0.9" stroke-linejoin="round"/><path d="M370,53.2L368.2,53.2M381.6,53.2L379.8,53.5M393.2,53.2L391.5,54M474.2,53.2L472.4,53.5M485.8,53.2L484,53.4M497.4,53.2L495.6,53M370,41.6L371.5,40.6M381.6,41.6L381.2,42.4M393.2,41.6L391.7,42.7M474.2,41.6L472.4,41.9M485.8,41.6L484,41.6M497.4,41.6L495.6,41.4M381.6,30.1L383.2,29.3M381.6,18.5L383.2,17.7" stroke="#c4c4bc" stroke-width="0.65" fill="none"/><path d="M366.1,53.3L368.2,52.5L368.2,53.9ZM377.8,53.8L379.7,52.8L379.9,54.2ZM389.6,54.9L391.2,53.3L391.8,54.6ZM470.4,53.9L472.3,52.8L472.5,54.2ZM481.9,53.5L483.9,52.7L484,54.1ZM493.5,52.8L495.6,52.3L495.5,53.7ZM373.2,39.3L371.9,41.1L371.1,40ZM382.1,40.5L381.8,42.7L380.6,42.1ZM390,43.9L391.3,42.1L392.1,43.3ZM470.3,42.1L472.3,41.2L472.5,42.6ZM481.9,41.7L484,40.9L484,42.3ZM493.5,41.2L495.6,40.7L495.5,42.1ZM385.1,28.3L383.5,29.9L382.9,28.6ZM385.1,16.8L383.5,18.3L382.9,17.1Z" fill="#c4c4bc" stroke="#c4c4bc" stroke-width="0.45" stroke-linejoin="round"/><path d="M289,145.8L282.1,146.7M300.6,145.8L295.3,146.5M358.4,145.8L352.3,149.1M370,145.8L364.3,149.4M381.6,145.8L374.5,148.9M393.2,145.8L385.6,148.7M404.8,145.8L398.1,148.4M416.3,145.8L408.2,148.2M427.9,145.8L419.6,148.1M439.5,145.8L431.5,147.4M451,145.8L443.8,147.1M462.6,145.8L454.7,147.3M474.2,145.8L466.4,147.4M485.8,145.8L478.3,146.7M497.4,145.8L490.8,146.5M289,134.2L280.1,135.3M300.6,134.2L290.5,135.6M358.4,134.2L352.6,137.7M370,134.2L364.7,138.2M381.6,134.2L374.4,137.3M393.2,134.2L384.6,137.5M404.8,134.2L396.6,137.1M416.3,134.2L406.2,136.2M427.9,134.2L419.4,136.9M439.5,134.2L430.7,136.1M451,134.2L440,134.9M462.6,134.2L453.9,135.8M474.2,134.2L466.3,136.1M485.8,134.2L477.4,135.4M497.4,134.2L487.3,134.6M289,122.7L279.4,123.6M300.6,122.7L289.6,123.3M312.1,122.7L302.2,123.7M323.7,122.7L313.7,124M358.4,122.7L351.3,125.1M370,122.7L363.4,125.5M381.6,122.7L375,125.3M393.2,122.7L385.6,125.7M404.8,122.7L396.8,126M416.3,122.7L408.1,125.7M427.9,122.7L420,126M439.5,122.7L431.6,125.5M451,122.7L443.1,125.3M462.6,122.7L454.8,125.1M474.2,122.7L466.3,124.6M485.8,122.7L478,124.5M497.4,122.7L489.4,124M289,111.1L279.4,111.9M300.6,111.1L290.3,111.9M312.1,111.1L302.4,112M323.7,111.1L314,112.3M335.3,111.1L326.3,112.6M358.4,111.1L350.5,113.1M370,111.1L362.8,113.4M381.6,111.1L374.6,113.5M393.2,111.1L385.9,114.3M404.8,111.1L397.5,115M416.3,111.1L408.9,114.7M427.9,111.1L420.6,115M439.5,111.1L432.2,114.6M451,111.1L444.4,115M462.6,111.1L455.6,114.2M474.2,111.1L467.6,114.4M485.8,111.1L478.8,113.6M497.4,111.1L490.8,113.7M300.6,99.5L289.6,100.2M312.1,99.5L301.9,100.3M323.7,99.5L312.7,100.9M335.3,99.5L325.7,100.9M346.9,99.5L337.7,101.5M358.4,99.5L349.9,101.4M370,99.5L362.7,101.5M381.6,99.5L374.3,101.5M393.2,99.5L386,102.3M404.8,99.5L397.5,103.2M416.3,99.5L409.1,103.1M427.9,99.5L420.7,103.3M439.5,99.5L432.5,103.1M451,99.5L444.3,103.2M462.6,99.5L455.9,102.8M474.2,99.5L467.5,102.6M485.8,99.5L479,102.2M497.4,99.5L490.7,102M312.1,87.9L303.5,88.6M323.7,87.9L314.8,88.9M335.3,87.9L326.8,89.1M346.9,87.9L338.6,89.4M358.4,87.9L350.7,89.4M370,87.9L362.9,89.5M381.6,87.9L374.6,90M393.2,87.9L386.2,91M404.8,87.9L397.5,91.9M416.3,87.9L409.3,91.7M427.9,87.9L420.6,91.9M439.5,87.9L432.7,91.7M451,87.9L444.5,91.9M462.6,87.9L456.1,91.3M474.2,87.9L467.6,91.2M485.8,87.9L479.2,90.6M497.4,87.9L490.8,90.6M312.1,76.4L303.6,77M323.7,76.4L316.2,76.9M335.3,76.4L326.7,77.7M346.9,76.4L339.5,77.3M358.4,76.4L350.5,77.7M370,76.4L363.2,77.4M381.6,76.4L375.5,77.6M393.2,76.4L386.8,79M404.8,76.4L398.2,80M416.3,76.4L409.9,80.1M427.9,76.4L421.7,80.5M439.5,76.4L433.4,80.2M451,76.4L445.3,80.1M462.6,76.4L456.7,79.2M474.2,76.4L468.1,78.3M485.8,76.4L479.7,78.1M497.4,76.4L491.3,77.6M300.6,64.8L297,63.6M312.1,64.8L306.9,64.1M323.7,64.8L318.5,64.3M335.3,64.8L329.4,64.1M346.9,64.8L340.9,64.8M358.4,64.8L352.5,64.8M370,64.8L364.2,65.3M381.6,64.8L375.7,65.4M393.2,64.8L387.2,67M404.8,64.8L398.2,68.7M416.3,64.8L410.3,68.7M427.9,64.8L422,69.4M439.5,64.8L433.9,68.7M451,64.8L445.8,68.7M462.6,64.8L457.1,67.3M474.2,64.8L468.3,66.1M485.8,64.8L480,65.9M497.4,64.8L491.4,65.4M300.6,53.2L301.1,51M312.1,53.2L311.6,51.9M323.7,53.2L324.8,51.1M335.3,53.2L332.1,52.2M346.9,53.2L345.5,52.6M358.4,53.2L354.9,52.8M404.8,53.2L399.6,56.7M416.3,53.2L411.3,56.8M427.9,53.2L422.7,57.4M439.5,53.2L434.4,57.1M451,53.2L446.2,57.2M462.6,53.2L457.8,55.4M335.3,41.6L336,40.4M346.9,41.6L352,39M358.4,41.6L362,39.4M404.8,41.6L399.5,45.6M416.3,41.6L412.6,44.6M427.9,41.6L422.6,46.2M439.5,41.6L435,45.4M451,41.6L446.4,46.2M462.6,41.6L458,43.9M358.4,30.1L363.3,27.3M370,30.1L375.9,26.8M393.2,30.1L398.6,27.6M404.8,30.1L406.1,29.6M416.3,30.1L420.9,27.8M427.9,30.1L426.5,31.4M439.5,30.1L436.8,32.1M451,30.1L447.6,32.5M462.6,30.1L457.8,30.8M474.2,30.1L468.9,29.4M485.8,30.1L480.6,29.6M497.4,30.1L492.1,29.1M370,18.5L374.5,15.9M393.2,18.5L398.5,16.1M404.8,18.5L408.4,16.8M416.3,18.5L420.8,16.3M427.9,18.5L428.3,17.8M439.5,18.5L436.9,20.4M451,18.5L447.9,20.4M462.6,18.5L458.1,19.3M474.2,18.5L469.1,18.3M485.8,18.5L480.6,18.2M497.4,18.5L492.1,17.8" stroke="#101010" stroke-width="0.95" fill="none"/><path d="M278.3,147.2L282,145.7L282.2,147.6ZM292.3,146.8L295.2,145.7L295.4,147.3ZM348.9,150.9L351.9,148.2L352.8,149.9ZM361.1,151.5L363.8,148.7L364.8,150.2ZM370.6,150.7L374.1,148L375,149.9ZM381.5,150.3L385.2,147.7L386,149.8ZM394.5,149.9L397.8,147.5L398.5,149.3ZM403.7,149.6L407.9,147.1L408.5,149.3ZM415,149.4L419.3,147L419.9,149.2ZM427,148.3L431.2,146.3L431.7,148.5ZM439.8,147.9L443.6,146.1L444,148.1ZM450.3,148.1L454.5,146.2L454.9,148.4ZM462,148.3L466.1,146.3L466.6,148.5ZM474.1,147.2L478.2,145.7L478.4,147.8ZM487.1,146.8L490.7,145.6L490.8,147.4ZM275.3,135.9L280,134.1L280.3,136.5ZM285.3,136.3L290.4,134.2L290.7,136.9ZM349.3,139.7L352.1,136.9L353.1,138.5ZM361.7,140.4L364.2,137.4L365.2,138.9ZM370.5,139L374,136.3L374.9,138.3ZM379.9,139.3L384.1,136.4L385,138.7ZM392.2,138.6L396.3,136L397,138.2ZM401,137.3L406,134.9L406.5,137.6ZM414.7,138.3L419,135.7L419.7,138ZM425.9,137.1L430.5,134.9L431,137.3ZM434.8,135.2L440,133.5L440.1,136.4ZM449.2,136.7L453.7,134.7L454.2,137ZM462,137.2L466.1,135.1L466.6,137.2ZM472.8,136L477.2,134.2L477.5,136.5ZM482.1,134.7L487.3,133.2L487.4,135.9ZM274.2,124.1L279.3,122.3L279.6,124.9ZM284.3,123.7L289.5,121.9L289.7,124.8ZM296.9,124.2L302,122.3L302.3,125ZM308.5,124.7L313.5,122.6L313.9,125.3ZM347.3,126.5L350.9,124.2L351.6,126.1ZM359.7,127.1L363,124.6L363.8,126.4ZM371.3,126.8L374.6,124.4L375.4,126.2ZM381.4,127.4L385.2,124.7L386,126.8ZM392.5,127.8L396.4,124.9L397.3,127ZM403.7,127.3L407.7,124.6L408.6,126.8ZM415.6,127.8L419.5,124.9L420.4,127ZM427.2,127.1L431.2,124.4L432,126.6ZM438.8,126.7L442.8,124.2L443.5,126.4ZM450.5,126.4L454.5,124L455.1,126.1ZM461.9,125.7L466,123.6L466.5,125.7ZM473.7,125.5L477.8,123.4L478.3,125.5ZM485.1,124.7L489.2,122.9L489.6,125ZM274.2,112.3L279.3,110.6L279.6,113.2ZM285,112.3L290.2,110.5L290.4,113.2ZM297.1,112.6L302.2,110.7L302.5,113.4ZM308.8,113L313.8,111L314.2,113.7ZM321.4,113.4L326.1,111.4L326.5,113.8ZM346.1,114.2L350.2,112L350.8,114.2ZM358.8,114.7L362.5,112.4L363.1,114.4ZM370.6,114.9L374.2,112.6L374.9,114.5ZM381.9,116L385.5,113.3L386.3,115.3ZM393.5,117.2L396.9,114L398,116ZM404.8,116.6L408.4,113.6L409.4,115.7ZM416.6,117.2L420.1,114L421.2,116ZM428.2,116.5L431.8,113.6L432.7,115.6ZM440.8,117.2L443.9,114.1L445,115.9ZM451.7,115.9L455.2,113.3L456,115.2ZM463.9,116.2L467.1,113.5L468,115.3ZM474.9,115L478.4,112.7L479.1,114.6ZM487.1,115.2L490.4,112.8L491.1,114.6ZM284.3,100.5L289.5,98.8L289.7,101.6ZM296.7,100.8L301.8,99L302.1,101.7ZM307.5,101.5L312.5,99.4L312.9,102.3ZM320.5,101.7L325.5,99.6L325.9,102.2ZM332.6,102.6L337.4,100.2L337.9,102.7ZM345.2,102.4L349.7,100.2L350.2,102.6ZM358.6,102.6L362.4,100.5L362.9,102.5ZM370.3,102.6L374.1,100.5L374.6,102.5ZM382,103.9L385.6,101.3L386.4,103.3ZM393.5,105.2L397,102.2L398,104.2ZM405.1,105.1L408.6,102.2L409.6,104.1ZM416.7,105.4L420.2,102.3L421.2,104.3ZM428.6,105.1L432,102.2L433,104.1ZM440.6,105.3L443.8,102.3L444.8,104.1ZM452.1,104.6L455.4,101.9L456.3,103.7ZM463.8,104.3L467.1,101.7L467.9,103.5ZM475.3,103.7L478.7,101.3L479.4,103.1ZM487,103.5L490.3,101.1L491,103ZM298.7,88.9L303.4,87.4L303.6,89.8ZM309.9,89.4L314.7,87.7L315,90.1ZM322.2,89.7L326.7,87.9L327,90.3ZM334.1,90.2L338.4,88.3L338.8,90.5ZM346.4,90.1L350.5,88.3L350.9,90.4ZM358.9,90.5L362.6,88.6L363.1,90.5ZM370.7,91.1L374.3,89L374.9,90.9ZM382.3,92.8L385.8,90.1L386.6,92ZM393.5,94.1L397,90.9L398,92.9ZM405.4,93.7L408.8,90.7L409.8,92.6ZM416.6,94.1L420.1,90.9L421.2,92.9ZM429,93.8L432.2,90.8L433.2,92.6ZM440.8,94.1L443.9,91L445,92.8ZM452.5,93.1L455.6,90.4L456.6,92.2ZM463.9,93L467.2,90.3L468.1,92.1ZM475.6,92.1L478.9,89.7L479.6,91.5ZM487.1,92L490.4,89.7L491.1,91.5ZM298.9,77.4L303.5,75.8L303.7,78.2ZM312.1,77.2L316.2,75.8L316.3,77.9ZM322,78.4L326.5,76.5L326.9,78.8ZM335.3,77.8L339.3,76.2L339.6,78.3ZM346.2,78.4L350.3,76.6L350.7,78.8ZM359.3,78.1L363,76.5L363.3,78.4ZM372,78.4L375.3,76.8L375.6,78.5ZM383.3,80.5L386.5,78.1L387.2,79.9ZM394.5,82.1L397.7,79.1L398.7,80.9ZM406.4,82.2L409.4,79.2L410.4,81ZM418.3,82.8L421.1,79.7L422.3,81.4ZM430,82.3L432.9,79.3L433.9,81ZM442.1,82.1L444.8,79.3L445.8,80.8ZM453.3,80.8L456.3,78.4L457,80ZM464.7,79.3L467.9,77.4L468.4,79.1ZM476.2,79.1L479.4,77.3L479.9,78.9ZM487.8,78.3L491.1,76.7L491.4,78.4ZM294.9,63L297.3,62.9L296.8,64.4ZM303.9,63.7L307,63.3L306.8,64.9ZM315.4,64L318.5,63.5L318.4,65.1ZM326,63.7L329.4,63.3L329.3,64.9ZM337.5,64.9L340.9,64L340.9,65.6ZM349.1,64.8L352.5,64L352.5,65.6ZM360.8,65.6L364.1,64.5L364.2,66.1ZM372.3,65.8L375.6,64.6L375.8,66.2ZM383.9,68.3L386.9,66.2L387.5,67.8ZM394.5,70.9L397.6,67.8L398.7,69.6ZM407,70.9L409.8,67.9L410.9,69.5ZM418.7,71.9L421.3,68.6L422.6,70.2ZM430.8,70.9L433.3,68L434.4,69.5ZM442.8,70.9L445.2,68L446.3,69.4ZM454,68.8L456.7,66.6L457.4,68.1ZM464.9,66.8L468.1,65.3L468.4,66.9ZM476.7,66.5L479.9,65.1L480.1,66.6ZM488.1,65.8L491.3,64.6L491.5,66.2ZM301.6,48.9L301.9,51.2L300.3,50.8ZM310.8,50L312.3,51.6L310.9,52.2ZM325.8,49.3L325.5,51.5L324.1,50.7ZM330.1,51.6L332.3,51.5L331.9,53ZM343.5,51.7L345.8,51.8L345.1,53.3ZM352.8,52.6L355,52L354.9,53.6ZM396.7,58.7L399.1,56L400.1,57.4ZM408.4,58.8L410.8,56.1L411.8,57.5ZM419.8,59.7L422.1,56.7L423.3,58.1ZM431.6,59.2L433.9,56.4L435,57.7ZM443.5,59.4L445.7,56.5L446.8,57.8ZM455.1,56.6L457.5,54.6L458.2,56.1ZM337,38.6L336.7,40.8L335.3,40ZM355,37.5L352.4,39.7L351.7,38.3ZM364.1,38.1L362.5,40.1L361.6,38.7ZM396.6,47.8L399,44.8L400,46.3ZM410.5,46.4L412.1,44L413.2,45.3ZM419.7,48.8L422,45.5L423.3,46.9ZM432.4,47.6L434.4,44.8L435.5,46ZM443.8,48.8L445.8,45.6L447.1,46.9ZM455.4,45.2L457.7,43.2L458.4,44.6ZM366,25.7L363.7,27.9L362.9,26.6ZM379.3,24.9L376.4,27.6L375.5,26ZM401.7,26.3L399,28.4L398.3,26.9ZM408.1,28.9L406.4,30.3L405.9,28.8ZM423.5,26.6L421.2,28.6L420.5,27.1ZM425,32.9L425.9,30.8L427,32ZM435.1,33.3L436.3,31.4L437.2,32.7ZM445.5,34L447.1,31.9L448,33.2ZM455,31.3L457.7,30L457.9,31.6ZM465.9,29L469,28.6L468.8,30.2ZM477.6,29.3L480.6,28.8L480.5,30.4ZM489.1,28.5L492.2,28.3L491.9,29.8ZM377.1,14.4L374.9,16.6L374.1,15.2ZM401.5,14.8L398.8,16.8L398.2,15.4ZM410.6,15.8L408.7,17.5L408.1,16.1ZM423.3,15.1L421.1,17L420.4,15.6ZM427.3,19.6L427.6,17.4L429,18.2ZM435.2,21.6L436.4,19.7L437.4,21ZM446.1,21.5L447.5,19.7L448.3,21.1ZM455.5,19.8L457.9,18.5L458.2,20.1ZM466.2,18.2L469.1,17.5L469.1,19.1ZM477.6,18L480.7,17.4L480.6,19ZM489.1,17.4L492.2,17L492,18.6Z" fill="#101010" stroke="#101010" stroke-width="0.45" stroke-linejoin="round"/></g><clipPath id="cpc"><rect x="38.8" y="187" width="208.3" height="125"/></clipPath><g clip-path="url(#cpc)"><rect x="37.8" y="186" width="210.3" height="127" fill="#ffe82a"/><path d="M138,186C129.3,187.5 138.1,194.5 140,197C141.9,199.5 148,203.5 152,205C156,206.5 164.3,207.7 170,208C175.7,208.3 189,207.7 195,207C201,206.3 209.7,204.1 215,203C220.3,201.9 230.6,199.3 235,199C239.4,198.7 246.3,202.2 248,201C249.7,199.8 250.4,191.5 248,190C245.6,188.5 235.7,190.5 230,190C224.3,189.5 217.3,186.5 205,186C192.7,185.5 146.7,184.5 138,186Z" fill="#fff34b"/><path d="M147,186C142.3,186.6 149.1,189.9 151,191C152.9,192.1 159.7,194.7 163,195C166.3,195.3 175.7,195.1 179,194C182.3,192.9 194.7,186.9 191,186C187.3,185.1 151.7,185.4 147,186Z" fill="#78f8fa"/><path d="M56,222C55.9,224.6 57.5,229.8 58,232.4C58.5,235 59,239.3 60,241.5C61,243.7 63.5,248.1 65.4,248.8C67.3,249.5 71.8,248.2 74.5,247C77.2,245.8 82.2,241.4 85.4,239.7C88.6,238 94.8,235.5 98.2,234.2C101.6,232.9 107.3,230.7 111,229.6C114.7,228.5 122,227 125.6,226C129.2,225 135.1,222.3 138,222.3C140.9,222.3 145.3,226.3 147,226C148.7,225.7 150.6,222.1 151,220C151.4,217.9 150.9,212.4 150,210C149.1,207.6 146.1,204 144,202C141.9,200 136.7,196.6 134,195C131.3,193.4 126.7,191.2 124,190C121.3,188.8 118.5,185.3 114,186C109.5,186.7 95.9,192.5 90,195C84.1,197.5 74.1,202.6 70,205C65.9,207.4 60.9,210.7 59,213C57.1,215.3 56.1,219.4 56,222Z" fill="#ffb016" stroke="#ffd422" stroke-width="5" stroke-linejoin="round" paint-order="stroke"/><path d="M65.4,216C63.8,218.5 66.8,221.1 68,223C69.2,224.9 72.4,229.2 74.5,230.5C76.6,231.8 80.7,232.6 83.6,232.4C86.5,232.2 92.7,229.8 96.4,228.7C100.1,227.6 107.1,225 111,224C114.9,223 122.4,222.5 125.6,221.4C128.8,220.3 133,217.5 134.7,216C136.4,214.5 137.8,212.4 138,210.5C138.2,208.6 137.3,204.1 136,202C134.7,199.9 130.7,196.6 128,195C125.3,193.4 119.2,190.4 116,190C112.8,189.6 108.8,190.1 104,192C99.2,193.9 85.1,200.8 80,204C74.9,207.2 67,213.5 65.4,216Z" fill="#ff8e12"/><path d="M80,206C77.6,207.6 77.1,210.3 77,212C76.9,213.7 77.7,217.5 79,219C80.3,220.5 84.5,222.6 87,223C89.5,223.4 94.8,222.5 98,222C101.2,221.5 107.5,219.8 111,219C114.5,218.2 121.7,217.2 124,216C126.3,214.8 127.7,211.7 128,210C128.3,208.3 127.3,204.6 126,203C124.7,201.4 120.4,198.9 118,198C115.6,197.1 111.1,195.7 108,196C104.9,196.3 98.7,198.7 95,200C91.3,201.3 82.4,204.4 80,206Z" fill="#ff7410"/><path d="M197,231C199,228.6 205.5,225.4 209,225C212.5,224.6 219.9,226 223,228C226.1,230 230.8,236.8 232,240C233.2,243.2 232.8,249.3 232,252C231.2,254.7 227.7,258.5 226,260C224.3,261.5 221.8,262.7 219,263C216.2,263.3 207.9,263.1 205,262C202.1,260.9 198.5,257.5 197,255C195.5,252.5 194,246.2 194,243C194,239.8 195,233.4 197,231Z" fill="#ffb016" stroke="#ffd422" stroke-width="5" stroke-linejoin="round" paint-order="stroke"/><path d="M38,268C39.2,263.9 47.4,271.8 50,272C52.6,272.2 60.8,270.7 64,270C67.2,269.3 78.6,266.3 82,265C85.4,263.7 95.4,258.1 98,257C100.6,255.9 106.6,254 108,254C109.4,254 112.7,255.7 112.4,257C112.1,258.3 106.5,265.2 105,267C103.5,268.8 97.8,270.4 97,275C96.2,279.6 102.9,309.2 97,313C91.1,316.8 43.9,317.5 38,313C32.1,308.5 36.8,272.1 38,268Z" fill="#78f8fa"/><path d="M38,295C39,292.5 45.6,289.3 48,288C50.4,286.7 59,282.9 62,282C65,281.1 75,278.8 78,278.6C81,278.4 90.6,276.6 92,280C93.4,283.4 97.4,309.7 92,313C86.6,316.3 43.4,314.8 38,313C32.6,311.2 37,297.5 38,295Z" fill="#00e8fa"/><path d="M98,296C99,294.6 105.6,298.7 108,299C110.4,299.3 119.4,299.4 122,299C124.6,298.6 131.9,295.8 134,295C136.1,294.2 140.9,291.5 143,291C145.1,290.5 152.4,289.6 155,290C157.6,290.4 166.8,293.5 169,295C171.2,296.5 176.1,303.2 177,305C177.9,306.8 185.9,312.2 178,313C170.1,313.8 106,314.7 98,313C90,311.3 97,297.4 98,296Z" fill="#78f8fa"/><path d="M116,313C111.4,312.1 120.2,305.3 122,304C123.8,302.7 131.9,300.8 134,300C136.1,299.2 140.9,296.5 143,296C145.1,295.5 152.8,294.5 155,295C157.2,295.5 163.7,299.2 165,301C166.3,302.8 172.9,311.8 168,313C163.1,314.2 120.6,313.9 116,313Z" fill="#00e8fa"/><path d="M134,254C134.5,253.5 141.3,252 143,252C144.7,252 157.7,253.7 159,254C160.3,254.3 163.3,256.4 163,257C162.7,257.6 156.3,262.7 155,263C153.7,263.3 144.3,261.3 143,261C141.7,260.7 136.6,259.5 136,259C135.4,258.5 133.5,254.5 134,254Z" fill="#78f8fa"/><path d="M248,271C246,267.7 235.3,272.2 231,273C226.7,273.8 214.8,276.4 211,278C207.2,279.6 199.6,285 198,287C196.4,289 195.9,293.1 197,295C198.1,296.9 203.5,301.8 207,303C210.5,304.2 222.2,305.2 227,305C231.8,304.8 245.6,305 248,301C250.4,297 250,274.3 248,271Z" fill="#78f8fa"/><path d="M248,277C245.6,275.4 231.3,277.8 227,279C222.7,280.2 213.1,285.4 211,287C208.9,288.6 208.1,291.7 209,293C209.9,294.3 215.7,297.5 219,298C222.3,298.5 233.6,297.6 237,297C240.4,296.4 246.7,295.3 248,293C249.3,290.7 250.4,278.6 248,277Z" fill="#00e8fa"/><path d="M38.8,182.4L111.5,182.4L109.2,186.1L106.9,189.8L104.1,193.9L100.8,197.2L96.2,200.9L91.6,204.1L87.4,206L82.8,207.4L78.6,208.8L74.9,210.1L69.8,211.5L66.1,212L65.2,214.3L64.7,216.6L61.9,217.1L61,215.2L60.6,213.4L57.3,213.8L53.2,215.2L49,217.1L45.3,219.4L43,221.7L41.8,224.5L42.7,229.6L44.8,232.4L47.1,234.2L49.4,236.5L52,238.6L54.5,241.2L56.9,244.4L58,248.1L58.9,252.3L58.2,255.5L56.4,257.4L54.5,258.8L51.8,261.5L49,264.1L45.7,265.2L43,266.4L40.2,267.1L38.8,267.1ZM55.2,223.1L57.3,220.1L60.6,218.5L64.7,218.2L66.8,220.8L65.2,224.5L62.9,227.3L59.6,228.7L55.9,226.8ZM112.9,196L115.4,194.9L117.3,196.2L116.8,198.6L115.7,201.3L114.7,205L112.9,207.8L112.2,210.4L111.3,208.8L109.4,206.4L108.7,203.7L109.6,200.4L111.5,198.1ZM110.6,225.9L112.9,225.2L115.7,226.3L118.9,225.9L119.6,229.1L119.1,231.9L120.3,233.3L119.4,236.1L117,237.9L115.7,239.3L115.7,242.6L116.4,245.8L118.4,246.7L120.3,245.8L122.1,247.2L124.5,247.6L126.3,248.3L127.5,251.3L127.2,253.7L125.4,252.3L123.5,251.3L121.7,249L119.8,249.5L120.3,250.9L118.4,249L116.6,247.6L114.3,249L111.5,247.9L111,245.3L112.6,244.4L111,243.2L108.9,243.5L107.8,240.7L107.1,237.5L108.2,236.8L109.6,237.7L109.6,234.7L109.6,231ZM109.2,249.5L112.9,249L115.7,251.3L115.7,254.6L113.8,255.7L112,253.7L110.6,251.8ZM127.7,253.4L132.3,253.2L134.2,256L135.1,260.6L131.9,260.8L130.9,258.8L129.1,256.4ZM128.2,258.8L131.2,259.2L131.9,261.5L132.8,264.8L130.9,265.9L130,263.4L128.6,261.5ZM123.1,254.1L126.3,255.3L127,257.1L124.9,256.4L123.1,256.4ZM116.6,256.7L119.8,257.4L123.1,258.3L122.6,261.1L120.8,262.9L117.5,264.1L116.8,261.1ZM121.2,260.8L124.7,261.3L124,265.7L123.3,270.3L120.1,268.9L119.1,266.2L121,264.3ZM126.8,259.4L127.5,261.5L125.6,265.7L123.5,268.7L123.5,266.2L124.9,262.9ZM125.8,265.9L128.2,265L129.5,266.6L128.2,267.6L126.1,267.3ZM93.9,275.9L94.4,272.6L97.1,269.4L100.4,266.2L103.2,262.9L104.5,260.1L106.4,257.4L107.8,254.8L110.1,255.1L109.6,257.4L107.8,259.7L107.1,263.4L104.5,265.7L102.2,268.5L99.5,271.3L97.1,273.6L95.3,275.9ZM107.3,255.1L109.6,255.5L109.2,256.9L107.6,256.7ZM132.8,265.7L135.6,267.6L137.9,270.8L138.8,275.4L139.3,279.1L137.4,283.3L136,281L134.9,279.6L133.7,281.9L134.9,284.7L133.3,286.8L131.9,284.9L129.1,284.5L126.8,282.4L126.3,279.1L127.2,277.7L124.9,276.8L123.1,278L120.8,278.2L118,280.7L116.8,278.7L117.5,275.4L120.8,273.1L123.5,271.5L125.8,273.6L128.2,271.7L130.2,271.7L130.2,269.9L132.3,269.6ZM116.6,281.2L118.9,281.2L118.4,282.1L116.8,282.1ZM112.4,284L114.7,284.2L114.3,284.9L112.4,284.7ZM107.3,287.7L109.4,287.9L109.2,288.6L107.3,288.4ZM56.9,316.6L57.3,306.2L59.2,303.2L62.9,298.8L68,296.3L73.1,295.3L77,292.6L80.9,289.3L85.1,285.8L89,282.1L92.5,279.1L94.6,276.3L96.7,275.9L97.6,279.4L98.5,282.8L100.8,284.9L104.1,287L105,288.9L102.2,291.2L99,292.6L98.1,295.3L96.7,297.6L99,301.4L99,303.7L103.2,306.9L99.9,308.3L97.6,311.1L96.7,316.6ZM106.9,316.6L107.3,311.1L108.7,308.3L111.5,306L114.7,306.7L119.4,307.4L123.5,307.6L128.2,306.4L131.4,303.9L132.6,305.1L129.5,309.7L124.9,310.6L119.8,309.7L114.7,309.7L111,309.7L109.2,312L108.7,316.6ZM142.5,316.6L143,307.8L143.4,304.1L144.8,301.8L145.5,304.6L148.5,304.8L146.7,307.8L148.5,310.1L146.2,310.6L145.1,316.6ZM146.2,300.4L148.1,300L148.5,302.3L146.7,302.7ZM139.3,291.6L140.2,291.2L140.2,293.9L139.3,293.5ZM133.3,294.9L134.4,294.9L134.2,296.5L133.3,296.3ZM52.7,292.6L54.5,293L54.3,294.9L52.7,294.9ZM43,296.7L45.3,296.7L45.3,298.6L43,298.6ZM55.9,298.1L57.8,298.1L57.3,300L55.9,299.5ZM49.9,306.9L51.3,306.9L51.3,308.3L49.9,308.3ZM38.3,306.4L38.8,306.4L38.8,316.6L38.3,316.6ZM155.9,311.8L160.6,312L160.6,316.6L155.9,316.6ZM116.6,217.1L117.5,217.1L117.5,218L116.6,218ZM114.3,221.7L115.7,221.7L115.4,222.9L114.3,222.6ZM143.9,190.7L146.7,187.7L146.7,188.8L144.8,191.2ZM132.3,196.7L133.7,196.9L133.3,197.6L132.3,197.4ZM125.4,198.8L128.2,198.3L127.7,199.5L125.6,199.7ZM222.1,249L223.8,249L223.5,250.7L222.4,250.7ZM227,241.2L227.9,241.2L227.7,242.6L226.8,242.6ZM174.9,276.3L176.3,276.3L175.8,278.2L174.9,278.2ZM191.6,267.6L192.7,267.6L192.5,268.5L191.6,268.5ZM127,246.7L128.6,247.2L128.2,249.3L127,249ZM135.8,265.7L136.7,265.7L136.5,267.1L135.8,267.1ZM133.7,263.8L134.6,263.8L134.4,265.9L133.7,265.9ZM224.8,246.3L225,246.3L225,246.7L224.8,246.7ZM226.8,242.6L227,242.6L227,243L226.8,243ZM227.1,236.1L227.3,236.1L227.3,236.5L227.1,236.5ZM227.6,234.5L227.8,234.5L227.8,234.9L227.6,234.9ZM227.8,231.7L228,231.7L228,232.1L227.8,232.1ZM227.6,230.3L227.8,230.3L227.8,230.7L227.6,230.7ZM227.6,228L227.8,228L227.8,228.4L227.6,228.4ZM226.9,224.9L227.1,224.9L227.1,225.3L226.9,225.3ZM225.8,220.6L225.9,220.6L225.9,221L225.8,221ZM224.8,219.2L225,219.2L225,219.6L224.8,219.6ZM223.4,216.9L223.6,216.9L223.6,217.3L223.4,217.3Z" fill="#70876c" stroke="#70876c" stroke-width="0.9" stroke-linejoin="round"/><path d="M85.1,207.8L83.4,208.5M96.7,207.8L96.9,208.2M108.2,207.8L108.4,208.2M119.8,207.8L120.2,208.7M131.4,207.8L131.8,209.1M108.2,196.2L110,196.5" stroke="#c4c4bc" stroke-width="0.65" fill="none"/><path d="M81.4,209.2L83.2,207.8L83.7,209.1ZM97.8,210.1L96.2,208.5L97.5,207.9ZM109.4,210.1L107.8,208.5L109.1,207.9ZM120.9,210.6L119.5,208.9L120.8,208.4ZM132.5,211.1L131.2,209.3L132.5,208.9ZM112.1,196.7L109.9,197.2L110.1,195.8Z" fill="#c4c4bc" stroke="#c4c4bc" stroke-width="0.45" stroke-linejoin="round"/><path d="M38.8,312L36.2,314.9M50.4,312L49.8,314.3M108.2,312L100.9,315.1M119.8,312L113.3,315.3M131.4,312L125.6,315.6M143,312L136.7,315.5M154.6,312L148,315.2M166.1,312L160.1,315.1M177.7,312L172.4,315.3M189.3,312L183.4,315.1M200.8,312L194.7,314.8M212.4,312L206.7,314.8M224,312L218.7,314.6M235.6,312L230.1,314.7M247.1,312L241.6,314.7M38.8,300.4L34.8,303.6M50.4,300.4L48.4,303.7M108.2,300.4L100.6,303.5M119.8,300.4L113.3,303.7M131.4,300.4L126.1,304.4M143,300.4L137,304.4M154.6,300.4L148.1,303.7M166.1,300.4L159.7,303.4M177.7,300.4L171.8,303.7M189.3,300.4L183,303.4M200.8,300.4L194.7,303.3M212.4,300.4L206.5,303.4M224,300.4L218.3,303.1M235.6,300.4L230.3,303.1M247.1,300.4L241.6,303.1M38.8,288.9L32.2,292.1M50.4,288.9L43.8,292.2M61.9,288.9L54.7,292.2M73.5,288.9L66.3,291.8M108.2,288.9L100.4,291.8M119.8,288.9L112.8,291.6M131.4,288.9L124.8,291.5M143,288.9L136.4,291.5M154.6,288.9L147.3,291.3M166.1,288.9L158.9,291.3M177.7,288.9L171.1,291.8M189.3,288.9L182.5,291.5M200.8,288.9L194.3,291.7M212.4,288.9L205.8,291.8M224,288.9L217.8,291.6M235.6,288.9L229.6,291.5M247.1,288.9L241.2,291.5M38.8,277.3L30.1,280.5M50.4,277.3L41.1,280.6M61.9,277.3L51.7,280.7M73.5,277.3L62.3,280.8M85.1,277.3L72.9,280.9M108.2,277.3L100,280.3M119.8,277.3L113.1,279.9M131.4,277.3L123.3,279.3M143,277.3L134.4,278.6M154.6,277.3L145.5,278.5M166.1,277.3L157.7,278.9M177.7,277.3L170.4,279.6M189.3,277.3L182,279.6M200.8,277.3L194.1,279.9M212.4,277.3L205.8,279.9M224,277.3L217.7,280M235.6,277.3L229,279.9M247.1,277.3L240.9,279.9M50.4,265.7L39.1,269.2M61.9,265.7L49.7,270M73.5,265.7L60.3,270.1M85.1,265.7L71.8,270.1M96.7,265.7L86.3,269.8M108.2,265.7L99.7,269M119.8,265.7L110.7,268.4M131.4,265.7L120.7,266.7M143,265.7L130,265M154.6,265.7L142.5,265.3M166.1,265.7L156.1,266.4M177.7,265.7L169.1,267M189.3,265.7L182,268M200.8,265.7L193.9,268.2M212.4,265.7L205.8,268.3M224,265.7L217.7,268.4M235.6,265.7L229.6,268.3M247.1,265.7L241.2,268.4M61.9,254.1L50.6,258.4M73.5,254.1L59.1,260.2M85.1,254.1L70.7,260.2M96.7,254.1L83.2,260.1M108.2,254.1L97.9,258.3M119.8,254.1L109.2,256.8M131.4,254.1L118.4,254.1M143,254.1L129,254.1M154.6,254.1L141.5,254.5M166.1,254.1L155.1,254.8M177.7,254.1L169.1,256.1M189.3,254.1L182,256.8M200.8,254.1L194,256.8M212.4,254.1L205.8,257.1M224,254.1L217.8,257.1M235.6,254.1L229.6,257.1M247.1,254.1L241.5,257.1M61.9,242.6L48.9,244M73.5,242.6L56.2,248.8M85.1,242.6L67.7,250.5M96.7,242.6L81.2,249.5M108.2,242.6L95.9,247.6M119.8,242.6L109.2,245.8M131.4,242.6L121.3,244.1M143,242.6L131,243.3M154.6,242.6L143.5,243.6M166.1,242.6L157.4,244.2M177.7,242.6L169.8,245.2M189.3,242.6L182.3,245.2M200.8,242.6L194.2,245.9M212.4,242.6L206.4,245.6M224,242.6L218.1,245.9M235.6,242.6L230.2,245.7M247.1,242.6L241.9,245.9M50.4,231L43.5,230.1M61.9,231L54,227.7M73.5,231L56.3,226.3M85.1,231L68,234.1M96.7,231L79.3,238.1M108.2,231L92.9,237.1M119.8,231L109.7,233.8M131.4,231L120.3,233.1M143,231L135.1,233M154.6,231L146.6,233.3M166.1,231L159.3,233.3M177.7,231L170.4,233.9M189.3,231L183.5,233.8M200.8,231L194.9,234.3M212.4,231L207.4,234.2M224,231L218.7,234.6M235.6,231L231.1,234.2M247.1,231L242.5,234.3M50.4,219.4L47.8,217.5M61.9,219.4L60.4,218.4M73.5,219.4L70.2,216.8M85.1,219.4L77.2,223.4M96.7,219.4L80.3,225.6M108.2,219.4L95.1,222.3M119.8,219.4L106.8,220.8M131.4,219.4L122.2,220.4M143,219.4L138.4,222M154.6,219.4L150.3,222.4M166.1,219.4L161.9,222M177.7,219.4L173.7,222.4M189.3,219.4L185.7,222.2M200.8,219.4L197.2,222.4M212.4,219.4L209.3,222.5M224,219.4L220.7,222.7M235.6,219.4L232.8,222.6M247.1,219.4L243.8,222.7M143,207.8L143,210M154.6,207.8L154.6,210M166.1,207.8L165.1,210M177.7,207.8L177.9,210M189.3,207.8L188.6,210.2M200.8,207.8L201.2,210.5M212.4,207.8L212.1,210.4M224,207.8L224.6,210.6M235.6,207.8L235.5,210.5M247.1,207.8L247.8,210.6M119.8,196.2L125.8,196.9M131.4,196.2L136.7,197.6M143,196.2L146.9,198.2M154.6,196.2L158.2,198.6M166.1,196.2L167.2,198.2M177.7,196.2L181.3,198.6M189.3,196.2L190.8,198.5M200.8,196.2L204.5,198.9M212.4,196.2L214.2,198.8M224,196.2L227.6,198.9M235.6,196.2L237.5,198.9M247.1,196.2L250.4,198.9M119.8,184.7L125.1,184.7M131.4,184.7L134.3,185.8M143,184.7L145.4,186.4M154.6,184.7L159.2,186.3M166.1,184.7L168.1,186.5M177.7,184.7L179.2,186.7M189.3,184.7L191.6,186.9M200.8,184.7L205.5,186.7M212.4,184.7L215.1,187.1M224,184.7L226.2,187.3M235.6,184.7L238.4,187.1M247.1,184.7L251.8,186.7" stroke="#101010" stroke-width="0.95" fill="none"/><path d="M34.7,316.6L35.6,314.4L36.8,315.4ZM49.3,316.3L49,314.1L50.6,314.4ZM96.9,316.8L100.5,314.1L101.4,316.1ZM109.6,317.1L112.8,314.4L113.7,316.2ZM122.3,317.7L125.1,314.8L126.1,316.4ZM133.2,317.4L136.2,314.6L137.2,316.3ZM144.4,316.9L147.6,314.3L148.5,316ZM156.8,316.8L159.7,314.3L160.6,315.9ZM169.4,317.2L172,314.6L172.9,316ZM180.1,316.8L183,314.3L183.8,315.9ZM191.3,316.4L194.4,314L195.1,315.7ZM203.4,316.3L206.3,314L207,315.6ZM215.7,316.1L218.4,313.9L219.1,315.4ZM227,316.2L229.8,313.9L230.5,315.4ZM238.4,316.2L241.2,313.9L241.9,315.4ZM32.5,305.4L34.3,303L35.3,304.2ZM47.2,305.7L47.7,303.3L49.1,304.1ZM96.4,305.2L100.2,302.4L101,304.5ZM109.6,305.5L112.8,302.8L113.7,304.6ZM123.1,306.6L125.6,303.6L126.6,305.1ZM133.7,306.6L136.5,303.5L137.6,305.2ZM144.5,305.6L147.6,302.8L148.5,304.6ZM156.1,305L159.3,302.5L160.1,304.3ZM168.4,305.6L171.3,302.9L172.2,304.5ZM179.5,305.1L182.6,302.5L183.4,304.3ZM191.2,304.9L194.3,302.5L195.1,304.2ZM203.1,305.1L206.1,302.6L206.9,304.2ZM215,304.7L217.9,302.4L218.6,303.9ZM227.3,304.6L229.9,302.3L230.6,303.8ZM238.5,304.6L241.3,302.3L242,303.8ZM28.5,293.9L31.7,291.2L32.6,293ZM40.1,294L43.3,291.3L44.2,293.1ZM50.7,294L54.2,291.2L55.1,293.1ZM62.2,293.5L65.9,290.8L66.7,292.8ZM96,293.4L99.9,290.7L100.8,292.9ZM108.9,293.1L112.4,290.6L113.1,292.5ZM121.1,293L124.4,290.6L125.2,292.4ZM132.7,293L136,290.6L136.7,292.4ZM143.3,292.6L147,290.3L147.6,292.3ZM154.9,292.7L158.6,290.4L159.3,292.3ZM167.4,293.5L170.7,290.9L171.5,292.7ZM178.7,293L182.1,290.6L182.9,292.5ZM190.6,293.2L193.9,290.8L194.7,292.6ZM202.2,293.5L205.4,290.9L206.2,292.7ZM214.4,293.1L217.5,290.7L218.2,292.4ZM226.3,293L229.3,290.7L230,292.3ZM237.9,293L240.9,290.7L241.6,292.3ZM25.4,282.3L29.7,279.4L30.6,281.7ZM36.1,282.4L40.6,279.3L41.5,281.9ZM46.7,282.4L51.2,279.3L52.1,282ZM57.2,282.4L61.8,279.4L62.7,282.2ZM67.8,282.4L72.5,279.4L73.3,282.3ZM95.5,282L99.6,279.2L100.5,281.4ZM109.4,281.4L112.8,279L113.5,280.8ZM118.8,280.4L123,278.2L123.5,280.4ZM129.7,279.3L134.2,277.4L134.6,279.8ZM140.5,279.1L145.3,277.2L145.7,279.7ZM153,279.8L157.4,277.7L157.9,280ZM166.4,280.9L170.1,278.6L170.8,280.6ZM178,280.9L181.7,278.6L182.3,280.6ZM190.4,281.3L193.8,278.9L194.5,280.8ZM202.1,281.4L205.5,279L206.2,280.8ZM214.1,281.5L217.3,279.1L218,280.8ZM225.3,281.4L228.6,279L229.3,280.8ZM237.4,281.4L240.5,279.1L241.3,280.8ZM34.1,270.8L38.7,267.8L39.6,270.6ZM44.7,271.8L49.2,268.6L50.2,271.5ZM55.2,271.8L59.8,268.7L60.7,271.5ZM66.8,271.8L71.4,268.7L72.3,271.5ZM81.4,271.8L85.8,268.5L86.9,271.2ZM95,270.8L99.2,267.8L100.1,270.2ZM105.7,269.8L110.3,267.1L111.1,269.6ZM115.4,267.2L120.6,265.3L120.9,268.1ZM124.7,264.7L130.1,263.5L129.9,266.5ZM137.3,265.2L142.6,263.8L142.5,266.8ZM150.8,266.7L156,265L156.2,267.7ZM164.4,267.7L168.9,265.8L169.3,268.2ZM178,269.3L181.7,267L182.3,269ZM190,269.6L193.5,267.2L194.2,269.1ZM202.2,269.8L205.5,267.4L206.2,269.2ZM214.1,269.9L217.3,267.6L218,269.3ZM226.3,269.8L229.3,267.5L230,269.2ZM237.9,270L240.8,267.6L241.6,269.2ZM45.7,260.2L50.1,257L51.2,259.8ZM54.2,262.2L58.6,258.8L59.7,261.6ZM65.8,262.2L70.1,258.8L71.3,261.6ZM78.4,262.2L82.6,258.7L83.9,261.5ZM93,260.2L97.4,256.9L98.4,259.6ZM104.1,258.1L108.9,255.4L109.6,258.2ZM113.1,254.1L118.4,252.6L118.4,255.6ZM123.7,254.1L129,252.6L129,255.6ZM136.3,254.6L141.5,253L141.6,256ZM149.8,255.1L155,253.4L155.2,256.3ZM164.4,257.2L168.8,254.9L169.4,257.3ZM178,258.2L181.6,255.8L182.4,257.7ZM190.2,258.4L193.6,255.9L194.4,257.8ZM202.2,258.7L205.4,256.2L206.2,258ZM214.4,258.7L217.4,256.2L218.2,257.9ZM226.3,258.8L229.2,256.3L230,257.9ZM238.3,258.8L241.1,256.4L241.9,257.9ZM43.7,244.6L48.8,242.5L49.1,245.5ZM51.2,250.7L55.7,247.4L56.7,250.3ZM62.8,252.7L67,249.1L68.3,251.8ZM76.4,251.7L80.6,248.1L81.9,250.9ZM91,249.7L95.3,246.3L96.4,249ZM104.1,247.3L108.8,244.4L109.6,247.2ZM116.1,244.9L121.1,242.7L121.5,245.4ZM125.7,243.6L130.9,241.8L131.1,244.8ZM138.3,244.1L143.4,242.1L143.7,245ZM152.6,245.1L157.1,243L157.6,245.4ZM165.4,246.6L169.4,244.1L170.1,246.3ZM178.4,246.7L181.9,244.3L182.7,246.2ZM190.6,247.7L193.8,245L194.7,246.8ZM203.1,247.4L206,244.8L206.9,246.5ZM214.7,247.7L217.6,245L218.5,246.7ZM227.2,247.5L229.8,245L230.6,246.4ZM238.9,247.7L241.4,245.1L242.3,246.6ZM39.6,229.7L43.6,229.2L43.3,231.1ZM49.7,225.9L54.5,226.6L53.6,228.8ZM51.2,224.9L56.7,224.8L56,227.7ZM62.8,235L67.8,232.6L68.3,235.6ZM74.4,240.1L78.7,236.7L79.9,239.5ZM88,239.1L92.3,235.7L93.4,238.5ZM104.5,235.2L109.3,232.4L110,235.1ZM115.1,234L120,231.6L120.6,234.5ZM130.7,234L134.8,231.9L135.3,234ZM142.3,234.6L146.3,232.2L146.9,234.4ZM155.4,234.6L158.9,232.4L159.6,234.2ZM166.4,235.6L170,233L170.8,234.9ZM180.2,235.4L183.1,233L183.8,234.6ZM191.6,236.1L194.5,233.5L195.4,235.1ZM204.6,236L207,233.5L207.9,234.8ZM215.8,236.6L218.2,233.9L219.2,235.3ZM228.6,236.1L230.6,233.6L231.6,234.9ZM239.9,236.1L242.1,233.6L243,234.9ZM46.1,216.2L48.3,216.8L47.3,218.1ZM58.7,217.2L60.9,217.7L60,219.1ZM68.3,215.2L70.7,216.1L69.7,217.4ZM72.8,225.5L76.6,222.3L77.7,224.4ZM75.4,227.5L79.8,224.2L80.9,227ZM90,223.5L94.8,220.9L95.5,223.8ZM101.5,221.4L106.6,219.4L107,222.3ZM117.1,220.9L122,219.1L122.3,221.7ZM135.7,223.5L138,221.3L138.8,222.7ZM147.8,224.1L149.8,221.7L150.7,223ZM159.4,223.5L161.5,221.3L162.3,222.7ZM171.5,224.1L173.3,221.7L174.2,223ZM183.6,223.9L185.2,221.6L186.2,222.9ZM195.1,224.1L196.7,221.8L197.7,223ZM207.5,224.2L208.8,221.9L209.9,223ZM218.8,224.6L220.1,222.1L221.3,223.3ZM231.2,224.4L232.2,222L233.4,223.1ZM241.9,224.6L243.3,222.1L244.4,223.3ZM143,212.1L142.2,210L143.8,210ZM154.6,212.1L153.8,210L155.4,210ZM164.2,211.9L164.4,209.7L165.8,210.4ZM178,212.1L177.1,210.1L178.7,210ZM188.1,212.2L187.9,210L189.4,210.4ZM201.5,212.6L200.4,210.6L202,210.4ZM211.8,212.5L211.3,210.3L212.9,210.5ZM225.1,212.6L223.8,210.7L225.4,210.4ZM235.4,212.6L234.7,210.5L236.3,210.5ZM248.2,212.6L247,210.7L248.5,210.4ZM129.1,197.3L125.7,197.7L125.9,196.1ZM139.7,198.3L136.5,198.3L136.9,196.8ZM149.2,199.4L146.6,198.9L147.3,197.5ZM160.3,199.9L157.8,199.2L158.6,197.9ZM168.3,200L166.5,198.6L167.9,197.8ZM183.5,199.9L180.9,199.2L181.8,197.9ZM191.9,200.3L190.1,199L191.4,198.1ZM206.6,200.4L204,199.5L205,198.2ZM215.4,200.5L213.6,199.3L214.9,198.4ZM229.7,200.4L227.2,199.5L228.1,198.2ZM238.8,200.6L236.9,199.4L238.2,198.4ZM252.4,200.4L250,199.5L250.9,198.3ZM128.1,184.7L125.1,185.5L125.1,183.9ZM136.2,186.6L134,186.6L134.6,185.1ZM147.1,187.6L144.9,187.1L145.8,185.8ZM161.8,187.3L158.9,187.1L159.4,185.6ZM169.6,188L167.5,187.1L168.6,186ZM180.4,188.4L178.5,187.2L179.8,186.3ZM193.2,188.4L191.1,187.5L192.2,186.3ZM208.1,187.8L205.2,187.4L205.8,185.9ZM216.7,188.5L214.5,187.6L215.6,186.5ZM227.5,188.9L225.5,187.8L226.8,186.7ZM240.1,188.5L237.9,187.7L238.9,186.4ZM254.4,187.8L251.5,187.4L252.1,185.9Z" fill="#101010" stroke="#101010" stroke-width="0.45" stroke-linejoin="round"/></g><clipPath id="cpd"><rect x="289" y="187" width="208.4" height="125"/></clipPath><g clip-path="url(#cpd)"><rect x="288" y="186" width="210.4" height="127" fill="#ffe82a"/><path d="M390,186C376,186.7 391.7,189 393,191.5C394.3,194 397,201.7 399.6,204.6C402.2,207.5 408,211.6 412.7,213.4C417.4,215.2 429.1,217.5 434.6,217.8C440.1,218.1 449,216.8 454.2,215.6C459.4,214.4 469.2,211 473.9,209C478.6,207 486,202.2 489.2,200.3C492.4,198.4 496.8,196.4 498,194.5C499.2,192.6 512.4,187.1 498,186C483.6,184.9 404,185.3 390,186Z" fill="#ffd422"/><path d="M400,186C387.5,186.5 400.9,188.4 402,190C403.1,191.6 406.1,195.9 408.4,198C410.7,200.1 415.5,204.2 419.3,205.7C423.1,207.2 432.1,208.9 436.8,209C441.5,209.1 449.5,207.8 454.2,206.8C458.9,205.8 467.6,203 471.7,201.4C475.8,199.8 481.6,196.9 484.8,194.8C488,192.7 507.3,187.2 496,186C484.7,184.8 412.5,185.5 400,186Z" fill="#ffb016"/><path d="M418,186C413.9,186.9 419.9,191.5 421.5,193C423.1,194.5 427.3,196.8 430,197.5C432.7,198.2 439.3,198.5 442,198C444.7,197.5 448.7,195.6 450,194C451.3,192.4 456.3,187.1 452,186C447.7,184.9 422.1,185.1 418,186Z" fill="#ff8e12"/><path d="M417,226.5C418.5,224.5 429.3,221.2 434.6,220C439.9,218.8 452,217.5 456.4,217.8C460.8,218.1 466.4,220.5 467.3,222C468.2,223.5 465.9,227.1 463,228.7C460.1,230.3 450.7,233.1 445.5,234C440.3,234.9 427.5,236.2 423.7,235.2C419.9,234.2 415.5,228.5 417,226.5Z" fill="#fff34b"/><path d="M370,245C371.1,241.8 376.9,234.7 380,232C383.1,229.3 389,225.1 393,225C397,224.9 405.1,229.3 410,231C414.9,232.7 425.1,236.9 430,238C434.9,239.1 442.7,239.4 447,239C451.3,238.6 458.1,236.3 462,235C465.9,233.7 471.2,230.2 476,229C480.8,227.8 495.1,221.2 498,226C500.9,230.8 501.7,260.2 498,265C494.3,269.8 477.7,262 470,262C462.3,262 448,264.9 440,265C432,265.1 417.3,263.4 410,263C402.7,262.6 390.1,262.9 385,262C379.9,261.1 374,258.3 372,256C370,253.7 368.9,248.2 370,245Z" fill="#ffd422"/><path d="M381,244C381,241.9 383.4,237.7 385,236C386.6,234.3 390.6,231.7 393,231.6C395.4,231.5 398.9,234 403,235.5C407.1,237 418.5,241.8 424,243C429.5,244.2 438.9,244.7 444,244.4C449.1,244.1 457.9,241.7 462,240.5C466.1,239.3 469.7,236.5 474.5,235.5C479.3,234.5 494.9,230.3 498,233C501.1,235.7 499.5,253.1 498,256C496.5,258.9 491.8,254.9 487,254.5C482.2,254.1 468.8,252.8 462,253C455.2,253.2 442.8,255.8 436,256C429.2,256.2 417.8,255 411,254.5C404.2,254 389,253.4 385,252C381,250.6 381,246.1 381,244Z" fill="#ffb016"/><path d="M311,238C312.3,235.2 318.3,230.2 322,229C325.7,227.8 335.3,227.5 339,229C342.7,230.5 348.8,236.7 350,240C351.2,243.3 349.7,251.2 348,254C346.3,256.8 340.6,260.2 337,261C333.4,261.8 324.3,261.5 321,260C317.7,258.5 313.3,252.9 312,250C310.7,247.1 309.7,240.8 311,238Z" fill="#ffd422"/><path d="M317,239C318.1,237.1 322.3,234.7 325,234C327.7,233.3 334.3,233.1 337,234C339.7,234.9 344.2,238.7 345,241C345.8,243.3 344.3,249 343,251C341.7,253 337.7,255.5 335,256C332.3,256.5 325.4,256.1 323,255C320.6,253.9 317.8,250.1 317,248C316.2,245.9 315.9,240.9 317,239Z" fill="#ffb016"/><path d="M288,240C288.9,244.9 295.1,236.2 297,235C298.9,233.8 304.8,229.3 307,228C309.2,226.7 316.6,223.1 319,222C321.4,220.9 328.4,218.3 331,217C333.6,215.7 342.6,210.5 345,209C347.4,207.5 352.6,203.3 355,202C357.4,200.7 366.4,197 369,196C371.6,195 378.2,193 381,192C383.8,191 406.3,186.6 397,186C387.7,185.4 298.9,180.6 288,186C277.1,191.4 287.1,235.1 288,240Z" fill="#78f8fa"/><path d="M288,236C288.9,239.1 295.2,232.2 297,231C298.8,229.8 304.3,225.2 306,224C307.7,222.8 312.4,220.1 314,219C315.6,217.9 323.4,214.9 322,213C320.6,211.1 303.4,201.3 300,200C296.6,198.7 289.2,196.4 288,200C286.8,203.6 287.1,232.9 288,236Z" fill="#00e8fa"/><path d="M358,186C355.2,186.6 360.6,191.3 362,192C363.4,192.7 370,192.8 372,192.5C374,192.2 380.2,189.7 382,189C383.8,188.3 392.4,186.3 390,186C387.6,185.7 360.8,185.4 358,186Z" fill="#00e8fa"/><path d="M318,216C318.7,216.4 329.2,212.3 331,211.5C332.8,210.7 343.4,204.5 345,203.5C346.6,202.5 353.9,197.3 355,196.5C356.1,195.7 362.7,192.4 362,192C361.3,191.6 347.8,189.1 345,190C342.2,190.9 321.8,203.3 320,205C318.2,206.7 317.3,215.6 318,216Z" fill="#00e8fa"/><path d="M288,300C288.8,297.7 294.5,292.5 296,290C297.5,287.5 301.1,277 303,275C304.9,273 312.4,270.2 315,270C317.6,269.8 326.2,272.9 329,273C331.8,273.1 340.4,271.8 343,271C345.6,270.2 353,266.4 355,265C357,263.6 361.2,258 363,257C364.8,256 371.3,254.5 373,255C374.7,255.5 378.3,260.5 380,262C381.7,263.5 386,268.9 390,270C394,271.1 414,272.8 420,273C426,273.2 444,272.2 450,272C456,271.8 475.2,271 480,271C484.8,271 496.2,267.8 498,272C499.8,276.2 519,308.9 498,313C477,317.1 309,314.3 288,313C267,311.7 287.2,302.3 288,300Z" fill="#78f8fa"/><path d="M300,313C280.7,312 303.1,304.6 305,303C306.9,301.4 316.4,298.2 319,297C321.6,295.8 328.4,292.2 331,291C333.6,289.8 342.6,286 345,285C347.4,284 352.5,281.7 355,281C357.5,280.3 366.5,278.2 370,278C373.5,277.8 385,278.7 390,279C395,279.3 414,280.9 420,281C426,281.1 444,280.2 450,280C456,279.8 475.2,279 480,279C484.8,279 496.2,276.6 498,280C499.8,283.4 517.8,309.7 498,313C478.2,316.3 319.3,314 300,313Z" fill="#00e8fa"/><path d="M446,313C442,312.2 449.7,307.2 452,306C454.3,304.8 462.7,303.1 466,303C469.3,302.9 477.7,303.8 480,305C482.3,306.2 490,312.1 486,313C482,313.9 450,313.8 446,313Z" fill="#78f8fa"/><path d="M456,313C454.4,312.6 460.4,309.9 462,309.5C463.6,309.1 468.4,309.1 470,309.5C471.6,309.9 477.6,312.6 476,313C474.4,313.4 457.6,313.4 456,313Z" fill="#ffe82a"/><path d="M289,182.4L361.7,182.4L359.4,186.1L357.1,189.8L354.3,193.9L351,197.2L346.4,200.9L341.8,204.1L337.6,206L333,207.4L328.8,208.8L325.1,210.1L320,211.5L316.3,212L315.4,214.3L314.9,216.6L312.1,217.1L311.2,215.2L310.8,213.4L307.5,213.8L303.4,215.2L299.2,217.1L295.5,219.4L293.2,221.7L292,224.5L292.9,229.6L295,232.4L297.3,234.2L299.6,236.5L302.2,238.6L304.7,241.2L307.1,244.4L308.2,248.1L309.1,252.3L308.4,255.5L306.6,257.4L304.7,258.8L302,261.5L299.2,264.1L295.9,265.2L293.2,266.4L290.4,267.1L289,267.1ZM305.4,223.1L307.5,220.1L310.8,218.5L314.9,218.2L317,220.8L315.4,224.5L313.1,227.3L309.8,228.7L306.1,226.8ZM363.1,196L365.6,194.9L367.5,196.2L367,198.6L365.9,201.3L364.9,205L363.1,207.8L362.4,210.4L361.5,208.8L359.6,206.4L358.9,203.7L359.8,200.4L361.7,198.1ZM360.8,225.9L363.1,225.2L365.9,226.3L369.1,225.9L369.8,229.1L369.3,231.9L370.5,233.3L369.6,236.1L367.2,237.9L365.9,239.3L365.9,242.6L366.6,245.8L368.6,246.7L370.5,245.8L372.3,247.2L374.7,247.6L376.5,248.3L377.7,251.3L377.4,253.7L375.6,252.3L373.7,251.3L371.9,249L370,249.5L370.5,250.9L368.6,249L366.8,247.6L364.5,249L361.7,247.9L361.2,245.3L362.8,244.4L361.2,243.2L359.1,243.5L358,240.7L357.3,237.5L358.4,236.8L359.8,237.7L359.8,234.7L359.8,231ZM359.4,249.5L363.1,249L365.9,251.3L365.9,254.6L364,255.7L362.2,253.7L360.8,251.8ZM377.9,253.4L382.5,253.2L384.4,256L385.3,260.6L382.1,260.8L381.1,258.8L379.3,256.4ZM378.4,258.8L381.4,259.2L382.1,261.5L383,264.8L381.1,265.9L380.2,263.4L378.8,261.5ZM373.3,254.1L376.5,255.3L377.2,257.1L375.1,256.4L373.3,256.4ZM366.8,256.7L370,257.4L373.3,258.3L372.8,261.1L371,262.9L367.7,264.1L367,261.1ZM371.4,260.8L374.9,261.3L374.2,265.7L373.5,270.3L370.3,268.9L369.3,266.2L371.2,264.3ZM377,259.4L377.7,261.5L375.8,265.7L373.7,268.7L373.7,266.2L375.1,262.9ZM376,265.9L378.4,265L379.7,266.6L378.4,267.6L376.3,267.3ZM344.1,275.9L344.6,272.6L347.3,269.4L350.6,266.2L353.4,262.9L354.7,260.1L356.6,257.4L358,254.8L360.3,255.1L359.8,257.4L358,259.7L357.3,263.4L354.7,265.7L352.4,268.5L349.7,271.3L347.3,273.6L345.5,275.9ZM357.5,255.1L359.8,255.5L359.4,256.9L357.8,256.7ZM383,265.7L385.8,267.6L388.1,270.8L389,275.4L389.5,279.1L387.6,283.3L386.2,281L385.1,279.6L383.9,281.9L385.1,284.7L383.5,286.8L382.1,284.9L379.3,284.5L377,282.4L376.5,279.1L377.4,277.7L375.1,276.8L373.3,278L371,278.2L368.2,280.7L367,278.7L367.7,275.4L371,273.1L373.7,271.5L376,273.6L378.4,271.7L380.4,271.7L380.4,269.9L382.5,269.6ZM366.8,281.2L369.1,281.2L368.6,282.1L367,282.1ZM362.6,284L364.9,284.2L364.5,284.9L362.6,284.7ZM357.5,287.7L359.6,287.9L359.4,288.6L357.5,288.4ZM307.1,316.6L307.5,306.2L309.4,303.2L313.1,298.8L318.2,296.3L323.3,295.3L327.2,292.6L331.1,289.3L335.3,285.8L339.2,282.1L342.7,279.1L344.8,276.3L346.9,275.9L347.8,279.4L348.7,282.8L351,284.9L354.3,287L355.2,288.9L352.4,291.2L349.2,292.6L348.3,295.3L346.9,297.6L349.2,301.4L349.2,303.7L353.4,306.9L350.1,308.3L347.8,311.1L346.9,316.6ZM357.1,316.6L357.5,311.1L358.9,308.3L361.7,306L364.9,306.7L369.6,307.4L373.7,307.6L378.4,306.4L381.6,303.9L382.8,305.1L379.7,309.7L375.1,310.6L370,309.7L364.9,309.7L361.2,309.7L359.4,312L358.9,316.6ZM392.7,316.6L393.2,307.8L393.6,304.1L395,301.8L395.7,304.6L398.7,304.8L396.9,307.8L398.7,310.1L396.4,310.6L395.3,316.6ZM396.4,300.4L398.3,300L398.7,302.3L396.9,302.7ZM389.5,291.6L390.4,291.2L390.4,293.9L389.5,293.5ZM383.5,294.9L384.6,294.9L384.4,296.5L383.5,296.3ZM302.9,292.6L304.7,293L304.5,294.9L302.9,294.9ZM293.2,296.7L295.5,296.7L295.5,298.6L293.2,298.6ZM306.1,298.1L308,298.1L307.5,300L306.1,299.5ZM300.1,306.9L301.5,306.9L301.5,308.3L300.1,308.3ZM288.5,306.4L289,306.4L289,316.6L288.5,316.6ZM406.1,311.8L410.8,312L410.8,316.6L406.1,316.6ZM366.8,217.1L367.7,217.1L367.7,218L366.8,218ZM364.5,221.7L365.9,221.7L365.6,222.9L364.5,222.6ZM394.1,190.7L396.9,187.7L396.9,188.8L395,191.2ZM382.5,196.7L383.9,196.9L383.5,197.6L382.5,197.4ZM375.6,198.8L378.4,198.3L377.9,199.5L375.8,199.7ZM472.3,249L474,249L473.7,250.7L472.6,250.7ZM477.2,241.2L478.1,241.2L477.9,242.6L477,242.6ZM425.1,276.3L426.5,276.3L426,278.2L425.1,278.2ZM441.8,267.6L442.9,267.6L442.7,268.5L441.8,268.5ZM377.2,246.7L378.8,247.2L378.4,249.3L377.2,249ZM386,265.7L386.9,265.7L386.7,267.1L386,267.1ZM383.9,263.8L384.8,263.8L384.6,265.9L383.9,265.9ZM475,246.3L475.2,246.3L475.2,246.7L475,246.7ZM477,242.6L477.2,242.6L477.2,243L477,243ZM477.3,236.1L477.5,236.1L477.5,236.5L477.3,236.5ZM477.8,234.5L478,234.5L478,234.9L477.8,234.9ZM478,231.7L478.2,231.7L478.2,232.1L478,232.1ZM477.8,230.3L478,230.3L478,230.7L477.8,230.7ZM477.8,228L478,228L478,228.4L477.8,228.4ZM477.1,224.9L477.3,224.9L477.3,225.3L477.1,225.3ZM476,220.6L476.1,220.6L476.1,221L476,221ZM475,219.2L475.2,219.2L475.2,219.6L475,219.6ZM473.6,216.9L473.8,216.9L473.8,217.3L473.6,217.3Z" fill="#70876c" stroke="#70876c" stroke-width="0.9" stroke-linejoin="round"/><path d="M439.5,231L438.4,231.8M451,231L450.2,232M404.8,219.4L404.5,218.1M416.3,219.4L416.9,220.8M427.9,219.4L428.7,219.2M439.5,219.4L439.3,220.1M416.3,207.8L417.2,208M427.9,207.8L427.8,207.8M439.5,207.8L440.1,209M427.9,196.2L429.2,196.3" stroke="#c4c4bc" stroke-width="0.65" fill="none"/><path d="M436.3,233.3L438,231.2L438.8,232.3ZM448.5,233.9L449.6,231.5L450.7,232.5ZM404.1,215.5L405.2,218L403.8,218.2ZM415.9,218.4L417.5,220.5L416.2,221ZM426.3,219.8L428.6,218.5L428.9,219.9ZM438.6,222.5L438.6,219.9L440,220.3ZM419.7,208.6L417,208.7L417.3,207.3ZM430.3,208.6L427.6,208.5L428.1,207.1ZM441.2,211.3L439.5,209.3L440.7,208.7ZM431.8,196.4L429.2,197L429.3,195.6Z" fill="#c4c4bc" stroke="#c4c4bc" stroke-width="0.45" stroke-linejoin="round"/><path d="M289,312L284.8,311.7M300.6,312L296.1,312.1M358.4,312L353.5,311.1M370,312L363.9,311.7M381.6,312L375.3,312M393.2,312L386.9,311.8M404.8,312L398.8,311.5M416.3,312L409.7,311.5M427.9,312L421,311.4M439.5,312L432.8,311.6M451,312L444.9,311.7M462.6,312L456.3,311.5M474.2,312L467.9,311.1M485.8,312L479.4,311.5M497.4,312L491.5,312M289,300.4L284.6,300.5M300.6,300.4L296,301M358.4,300.4L353.5,299.4M370,300.4L363.6,300.1M381.6,300.4L374.1,300.4M393.2,300.4L386.6,300.2M404.8,300.4L398.8,299.9M416.3,300.4L409.5,300.1M427.9,300.4L420.4,300.1M439.5,300.4L432.6,300.2M451,300.4L444.8,300.4M462.6,300.4L456,300.4M474.2,300.4L467.3,300.4M485.8,300.4L479.1,300.4M497.4,300.4L491.4,300.7M289,288.9L284.5,288.6M300.6,288.9L295.4,289.1M312.1,288.9L307.2,288.6M323.7,288.9L317.4,289.1M358.4,288.9L353.5,287.7M370,288.9L363.8,288.3M381.6,288.9L374.1,288.9M393.2,288.9L386.7,288.5M404.8,288.9L399,288.3M416.3,288.9L409.6,288.6M427.9,288.9L420.4,288.9M439.5,288.9L432.7,288.8M451,288.9L444.9,289.1M462.6,288.9L455.9,289.2M474.2,288.9L466.7,289.1M485.8,288.9L479,289.3M497.4,288.9L491.5,289.6M289,277.3L285.2,276.3M300.6,277.3L296,277M312.1,277.3L307.9,276M323.7,277.3L317.4,277M335.3,277.3L330.5,276.1M358.4,277.3L353.6,276.2M370,277.3L364.6,276.4M381.6,277.3L374.1,277.3M393.2,277.3L387.1,276.7M404.8,277.3L399.2,276.6M416.3,277.3L410,277.1M427.9,277.3L420.4,277.6M439.5,277.3L433,277.5M451,277.3L445.2,277.9M462.6,277.3L456.1,278.1M474.2,277.3L466.7,278.1M485.8,277.3L479.3,278.4M497.4,277.3L491.8,278.7M300.6,265.7L298.4,264.1M312.1,265.7L308.7,263.4M323.7,265.7L319.7,264M335.3,265.7L330.7,264.6M346.9,265.7L342.3,264.8M358.4,265.7L353.3,265.1M370,265.7L365.8,264.1M381.6,265.7L375.9,265.1M393.2,265.7L386.3,265.4M404.8,265.7L399.2,265M416.3,265.7L410.8,265.3M427.9,265.7L421,266M439.5,265.7L433.8,266M451,265.7L445.2,266.7M462.6,265.7L455.8,266.9M474.2,265.7L468.4,267.1M485.8,265.7L479.5,267.4M497.4,265.7L491.9,267.6M312.1,254.1L311,248.9M323.7,254.1L322,248.9M335.3,254.1L333.6,249.5M346.9,254.1L345.1,249.5M358.4,254.1L356.1,250.7M370,254.1L367.8,251.1M381.6,254.1L377.6,252.4M393.2,254.1L388,253M404.8,254.1L400.4,252.9M416.3,254.1L411.2,253.5M427.9,254.1L423,253.9M439.5,254.1L434.3,254.7M451,254.1L446.5,255.1M462.6,254.1L458.6,256.4M474.2,254.1L470.3,256.3M485.8,254.1L482.9,257M497.4,254.1L494,256.7M312.1,242.6L312.7,236.8M323.7,242.6L324.9,236.2M335.3,242.6L337,236.2M346.9,242.6L348.6,236.2M358.4,242.6L359.6,236.8M370,242.6L369.4,238M381.6,242.6L379.9,238.5M393.2,242.6L390.3,240.2M404.8,242.6L400.1,241.4M416.3,242.6L412.3,242M427.9,242.6L424.4,242.4M439.5,242.6L437.1,243.5M451,242.6L448.3,244M462.6,242.6L460.7,245.7M474.2,242.6L472,245.5M485.8,242.6L484.4,246.4M497.4,242.6L495.6,245.9M300.6,231L302.8,226.1M312.1,231L314.4,225.8M323.7,231L326.6,225.2M335.3,231L338.8,224.7M346.9,231L350.9,225.2M358.4,231L360.8,225.2M370,231L370.8,226.3M381.6,231L381,226.4M393.2,231L391.4,227.5M404.8,231L399.6,229.3M416.3,231L412.9,230.4M427.9,231L424.4,231.6M462.6,231L461.4,234.4M474.2,231L473,234.4M485.8,231L485.1,234.9M497.4,231L496.5,234.7M300.6,219.4L304,214.8M312.1,219.4L316.2,214.2M323.7,219.4L328.3,214.2M335.3,219.4L339.3,213.7M346.9,219.4L351.5,213.7M358.4,219.4L363.1,214.2M370,219.4L371.8,214.2M381.6,219.4L382.2,214.2M393.2,219.4L393.2,214.8M451,219.4L450.8,220.9M462.6,219.4L462.2,223.2M474.2,219.4L473.9,223M485.8,219.4L485.8,223.4M497.4,219.4L497.3,223.2M335.3,207.8L340.5,202.6M346.9,207.8L352.6,202.6M358.4,207.8L363.6,203.2M370,207.8L375.2,203.8M381.6,207.8L385.1,202.6M393.2,207.8L396.6,202.6M404.8,207.8L407.1,204.9M451,207.8L451.8,209.9M462.6,207.8L463.2,211.8M474.2,207.8L474.7,211.5M485.8,207.8L486.3,211.8M497.4,207.8L497.8,211.6M358.4,196.2L364.8,191.7M370,196.2L376.9,192.2M381.6,196.2L388.5,193.4M393.2,196.2L399.5,194.5M404.8,196.2L410.5,195.7M416.3,196.2L420.3,195.1M439.5,196.2L442.3,199.1M451,196.2L453,199M462.6,196.2L464.3,200.3M474.2,196.2L475.4,200M485.8,196.2L486.9,200.3M497.4,196.2L498.2,200.1M370,184.7L375.4,180.8M381.6,184.7L386.8,181.5M393.2,184.7L398,182.4M404.8,184.7L409,183.2M416.3,184.7L419.7,183.6M427.9,184.7L429.7,184.6M439.5,184.7L441.4,186.3M451,184.7L452.5,186.8M462.6,184.7L463.9,187.9M474.2,184.7L475.2,188M485.8,184.7L486.7,188.3M497.4,184.7L498,188.1" stroke="#101010" stroke-width="0.95" fill="none"/><path d="M281.4,311.5L284.9,310.7L284.8,312.7ZM292.6,312.2L296.1,311.1L296.2,313.1ZM349.5,310.4L353.6,310.1L353.3,312.1ZM359.1,311.5L364,310.5L363.9,312.9ZM370.3,312L375.3,310.8L375.3,313.2ZM382,311.6L387,310.6L386.9,313ZM394.1,311.1L398.9,310.3L398.7,312.7ZM404.5,311.1L409.8,310.2L409.6,312.8ZM415.6,311L421.1,310.1L420.9,312.8ZM427.5,311.2L432.9,310.3L432.7,312.9ZM440,311.5L444.9,310.5L444.8,312.9ZM451.3,311.2L456.4,310.3L456.2,312.8ZM462.9,310.5L468,309.9L467.7,312.4ZM474.5,311.2L479.5,310.3L479.4,312.8ZM486.8,311.9L491.5,310.8L491.5,313.1ZM281,300.5L284.6,299.5L284.6,301.5ZM292.3,301.5L295.9,300L296.1,302ZM349.5,298.6L353.7,298.4L353.3,300.4ZM358.5,299.8L363.7,298.8L363.5,301.3ZM368.3,300.4L374.1,299L374.1,301.9ZM381.4,300L386.6,298.9L386.5,301.5ZM394.1,299.5L398.9,298.8L398.7,301.1ZM404.2,299.8L409.6,298.7L409.4,301.4ZM414.6,299.9L420.5,298.7L420.4,301.6ZM427.2,300L432.6,298.8L432.5,301.5ZM439.9,300.3L444.8,299.1L444.8,301.6ZM450.8,300.4L456,299.1L456,301.7ZM461.9,300.4L467.3,299.1L467.3,301.8ZM473.9,300.5L479.1,299.1L479.1,301.7ZM486.7,300.9L491.3,299.5L491.4,301.9ZM281,288.3L284.6,287.6L284.5,289.6ZM291.3,289.4L295.3,288.1L295.5,290.2ZM303.2,288.3L307.2,287.6L307.1,289.6ZM312.4,289.4L317.3,287.9L317.5,290.4ZM349.6,286.9L353.8,286.8L353.3,288.7ZM359,287.8L363.9,287.1L363.7,289.5ZM368.3,288.9L374.1,287.4L374.1,290.3ZM381.6,288.2L386.8,287.2L386.6,289.7ZM394.4,287.8L399.1,287.2L398.9,289.4ZM404.4,288.5L409.7,287.3L409.6,290ZM414.6,288.9L420.4,287.4L420.4,290.3ZM427.4,288.8L432.7,287.5L432.7,290.2ZM440.1,289.2L444.9,287.9L445,290.3ZM450.5,289.5L455.8,287.9L455.9,290.5ZM460.9,289.4L466.7,287.7L466.8,290.6ZM473.6,289.7L478.9,288L479.1,290.6ZM486.9,290.2L491.4,288.4L491.6,290.7ZM282.1,275.5L285.4,275.4L284.9,277.3ZM292.3,276.8L296,276L295.9,278ZM304.5,275L308.2,275.1L307.6,277ZM312.4,276.8L317.5,275.7L317.3,278.2ZM326.6,275.2L330.7,275.1L330.2,277.1ZM349.7,275.3L353.8,275.2L353.4,277.1ZM360.2,275.6L364.7,275.3L364.4,277.4ZM368.3,277.3L374.1,275.8L374.1,278.7ZM382.2,276.3L387.2,275.5L387,277.9ZM394.9,276.1L399.4,275.5L399.1,277.7ZM405.1,277L410.1,275.9L410,278.4ZM414.6,277.8L420.4,276.1L420.5,279ZM427.9,277.6L433,276.2L433.1,278.7ZM440.5,278.4L445,276.7L445.3,279ZM450.9,278.8L455.9,276.9L456.2,279.4ZM460.9,278.8L466.6,276.7L466.9,279.6ZM474.3,279.3L479.1,277.2L479.6,279.7ZM487.3,279.8L491.5,277.6L492,279.8ZM296.3,262.5L299,263.2L297.8,264.9ZM305.9,261.5L309.3,262.6L308.1,264.2ZM316.4,262.6L320.1,263.1L319.3,264.9ZM327,263.6L330.9,263.6L330.5,265.5ZM338.6,264.1L342.5,263.9L342.1,265.8ZM349.2,264.7L353.4,264.1L353.2,266.1ZM362.4,262.8L366.2,263.2L365.5,265.1ZM371.3,264.7L376,264L375.7,266.2ZM381,265.1L386.4,264L386.3,266.7ZM394.8,264.4L399.3,263.9L399,266.1ZM406.5,265.1L410.9,264.3L410.8,266.4ZM415.6,266.2L420.9,264.6L421.1,267.3ZM429.4,266.3L433.8,264.9L433.9,267.1ZM440.6,267.4L445,265.5L445.4,267.8ZM450.4,267.8L455.5,265.5L456,268.2ZM463.9,268.2L468.2,266L468.7,268.2ZM474.5,268.8L479.1,266.2L479.8,268.7ZM487.7,269L491.6,266.5L492.3,268.6ZM310.1,244.8L312,248.7L310,249.2ZM320.6,244.8L323,248.6L321,249.3ZM332.2,245.8L334.5,249.2L332.6,249.9ZM343.8,245.8L346.1,249.2L344.2,249.9ZM354.3,247.9L357,250.1L355.3,251.2ZM365.9,248.6L368.6,250.5L367,251.7ZM374.3,251L378,251.5L377.2,253.3ZM383.9,252.1L388.2,252L387.8,254ZM396.9,251.9L400.7,251.9L400.1,253.9ZM407.1,253.1L411.3,252.5L411.1,254.6ZM419.1,253.7L423,252.9L423,254.9ZM430.2,255.2L434.2,253.7L434.4,255.7ZM442.8,255.9L446.3,254.1L446.7,256.1ZM455.3,258.2L458.1,255.5L459.1,257.3ZM467.2,258.1L469.8,255.5L470.8,257.2ZM480.5,259.3L482.2,256.3L483.6,257.7ZM491.4,258.9L493.4,256L494.7,257.5ZM313.2,232.3L313.8,236.9L311.6,236.7ZM325.8,231.3L326.1,236.5L323.6,236ZM338.4,231.3L338.3,236.6L335.8,235.9ZM350,231.3L349.8,236.6L347.4,235.9ZM360.5,232.3L360.7,237L358.5,236.6ZM369,234.3L370.4,237.8L368.5,238.1ZM378.5,235.3L380.8,238.1L379,238.9ZM387.9,238.4L390.9,239.5L389.7,241ZM396.5,240.5L400.4,240.4L399.9,242.4ZM409.1,241.5L412.5,241L412.2,243ZM421.5,242.3L424.5,241.4L424.4,243.4ZM434.8,244.4L436.8,242.6L437.5,244.4ZM446,245.1L447.9,243.1L448.8,244.8ZM459,248.4L459.8,245.2L461.5,246.3ZM470.2,247.9L471.2,244.9L472.8,246.1ZM483.3,249.5L483.5,246L485.3,246.7ZM494.1,248.7L494.7,245.5L496.5,246.4ZM304.5,222.2L303.7,226.5L301.8,225.6ZM316.3,221.7L315.5,226.2L313.4,225.4ZM328.9,220.7L327.7,225.8L325.5,224.7ZM341.4,219.7L340,225.3L337.5,224ZM354,220.7L352,226L349.8,224.4ZM362.6,220.7L361.9,225.7L359.6,224.8ZM371.4,222.6L371.8,226.5L369.8,226.2ZM380.6,222.7L382,226.3L380,226.5ZM390,224.7L392.3,227.1L390.6,228ZM395.5,227.9L399.9,228.2L399.2,230.3ZM410,229.9L413,229.4L412.7,231.4ZM421.6,232L424.3,230.6L424.6,232.5ZM460.4,237.3L460.5,234.1L462.4,234.8ZM472.1,237.2L472.1,234L474,234.7ZM484.5,238L484.1,234.7L486.1,235ZM495.9,237.7L495.6,234.4L497.5,234.9ZM306.8,211.2L304.9,215.5L303.1,214.1ZM319.3,210.2L317.2,215L315.2,213.4ZM331.9,210.2L329.3,215.1L327.3,213.3ZM342.5,209.2L340.4,214.4L338.2,212.9ZM355.1,209.2L352.6,214.6L350.4,212.8ZM366.6,210.2L364.1,215.1L362,213.3ZM373.1,210.1L372.8,214.6L370.7,213.9ZM382.6,210.1L383.2,214.3L381.2,214.1ZM393.2,211.1L394.2,214.8L392.2,214.8ZM450.4,223.4L449.8,220.7L451.8,221ZM461.8,226.4L461.2,223.1L463.2,223.4ZM473.6,226L472.9,222.9L474.9,223.1ZM485.8,226.6L484.8,223.4L486.8,223.4ZM497.2,226.3L496.3,223.1L498.3,223.2ZM344.5,198.6L341.5,203.7L339.5,201.6ZM357.1,198.6L353.6,203.8L351.6,201.5ZM367.7,199.6L364.5,204.2L362.7,202.2ZM379.3,200.6L376,204.8L374.4,202.8ZM387.8,198.6L386.1,203.3L384,202ZM399.3,198.6L397.6,203.3L395.6,202ZM408.9,202.6L407.8,205.6L406.3,204.3ZM452.6,212.3L450.8,210.2L452.7,209.6ZM463.7,215L462.2,211.9L464.2,211.7ZM475.1,214.6L473.7,211.7L475.7,211.4ZM486.8,215.1L485.4,212L487.3,211.7ZM498.2,214.8L496.8,211.8L498.8,211.5ZM369.7,188.1L365.7,192.9L363.9,190.4ZM382.3,189.1L377.7,193.6L376.1,190.9ZM393.9,191.1L389.1,194.7L387.9,192ZM404.5,193.2L399.8,195.8L399.2,193.3ZM415,195.2L410.6,196.8L410.4,194.6ZM423.6,194.2L420.6,196.1L420.1,194.1ZM444.6,201.4L441.6,199.8L443,198.4ZM454.5,201.2L452.1,199.5L453.8,198.4ZM465.7,203.5L463.4,200.7L465.3,199.9ZM476.4,203L474.4,200.3L476.3,199.7ZM487.8,203.5L486,200.5L487.9,200ZM499,203.2L497.3,200.3L499.2,199.9ZM379.6,177.8L376.2,181.9L374.6,179.8ZM390.9,179.1L387.4,182.6L386.2,180.5ZM401.8,180.5L398.4,183.3L397.5,181.4ZM412.5,182L409.3,184.1L408.7,182.2ZM422.5,182.6L420,184.5L419.4,182.6ZM432.3,184.6L429.8,185.6L429.7,183.6ZM443.3,188L440.8,187.1L442.1,185.6ZM454,188.9L451.7,187.4L453.4,186.3ZM465,190.6L463,188.3L464.8,187.6ZM476,190.8L474.2,188.3L476.2,187.7ZM487.4,191.3L485.7,188.5L487.6,188.1ZM498.6,191L497.1,188.3L499,187.9Z" fill="#101010" stroke="#101010" stroke-width="0.45" stroke-linejoin="round"/></g><text x="39.1" y="17.6" font-size="10.75" font-family="Liberation Serif, serif" font-weight="bold" fill="#111" stroke="#111" stroke-width="0.22">(a) Winter: Wind and Omega for MHWs</text><text x="289.3" y="17.6" font-size="10.75" font-family="Liberation Serif, serif" font-weight="bold" fill="#111" stroke="#111" stroke-width="0.22">(b) Spring: Wind and Omega for MHWs</text><text x="39.1" y="183.8" font-size="10.75" font-family="Liberation Serif, serif" font-weight="bold" fill="#111" stroke="#111" stroke-width="0.22">(c) Summer: Wind and Omega for MHWs</text><text x="289.3" y="183.8" font-size="10.75" font-family="Liberation Serif, serif" font-weight="bold" fill="#111" stroke="#111" stroke-width="0.22">(d) Fall: Wind and Omega for MHWs</text><text x="34.8" y="149.8" font-size="11.9" text-anchor="end" font-family="Liberation Serif, serif" font-weight="bold" fill="#111" stroke="#111" stroke-width="0.22">0</text><text x="34.8" y="126.7" font-size="11.9" text-anchor="end" font-family="Liberation Serif, serif" font-weight="bold" fill="#111" stroke="#111" stroke-width="0.22">5</text><text x="34.8" y="103.5" font-size="11.9" text-anchor="end" font-family="Liberation Serif, serif" font-weight="bold" fill="#111" stroke="#111" stroke-width="0.22">10</text><text x="34.8" y="80.4" font-size="11.9" text-anchor="end" font-family="Liberation Serif, serif" font-weight="bold" fill="#111" stroke="#111" stroke-width="0.22">15</text><text x="34.8" y="57.2" font-size="11.9" text-anchor="end" font-family="Liberation Serif, serif" font-weight="bold" fill="#111" stroke="#111" stroke-width="0.22">20</text><text x="34.8" y="34.1" font-size="11.9" text-anchor="end" font-family="Liberation Serif, serif" font-weight="bold" fill="#111" stroke="#111" stroke-width="0.22">25</text><text x="61.9" y="160.3" font-size="11.9" text-anchor="middle" font-family="Liberation Serif, serif" font-weight="bold" fill="#111" stroke="#111" stroke-width="0.22">110</text><text x="108.2" y="160.3" font-size="11.9" text-anchor="middle" font-family="Liberation Serif, serif" font-weight="bold" fill="#111" stroke="#111" stroke-width="0.22">120</text><text x="154.6" y="160.3" font-size="11.9" text-anchor="middle" font-family="Liberation Serif, serif" font-weight="bold" fill="#111" stroke="#111" stroke-width="0.22">130</text><text x="200.8" y="160.3" font-size="11.9" text-anchor="middle" font-family="Liberation Serif, serif" font-weight="bold" fill="#111" stroke="#111" stroke-width="0.22">140</text><text x="247.1" y="160.3" font-size="11.9" text-anchor="middle" font-family="Liberation Serif, serif" font-weight="bold" fill="#111" stroke="#111" stroke-width="0.22">150</text><text x="286.6" y="149" font-size="9.5" text-anchor="end" font-family="Liberation Serif, serif" font-weight="bold" fill="#111" stroke="#111" stroke-width="0.22">0</text><text x="286.6" y="125.9" font-size="9.5" text-anchor="end" font-family="Liberation Serif, serif" font-weight="bold" fill="#111" stroke="#111" stroke-width="0.22">5</text><text x="286.6" y="102.7" font-size="9.5" text-anchor="end" font-family="Liberation Serif, serif" font-weight="bold" fill="#111" stroke="#111" stroke-width="0.22">10</text><text x="286.6" y="79.6" font-size="9.5" text-anchor="end" font-family="Liberation Serif, serif" font-weight="bold" fill="#111" stroke="#111" stroke-width="0.22">15</text><text x="286.6" y="56.4" font-size="9.5" text-anchor="end" font-family="Liberation Serif, serif" font-weight="bold" fill="#111" stroke="#111" stroke-width="0.22">20</text><text x="286.6" y="33.3" font-size="9.5" text-anchor="end" font-family="Liberation Serif, serif" font-weight="bold" fill="#111" stroke="#111" stroke-width="0.22">25</text><text x="312.1" y="156.7" font-size="9.5" text-anchor="middle" font-family="Liberation Serif, serif" font-weight="bold" fill="#111" stroke="#111" stroke-width="0.22">110</text><text x="358.4" y="156.7" font-size="9.5" text-anchor="middle" font-family="Liberation Serif, serif" font-weight="bold" fill="#111" stroke="#111" stroke-width="0.22">120</text><text x="404.8" y="156.7" font-size="9.5" text-anchor="middle" font-family="Liberation Serif, serif" font-weight="bold" fill="#111" stroke="#111" stroke-width="0.22">130</text><text x="451" y="156.7" font-size="9.5" text-anchor="middle" font-family="Liberation Serif, serif" font-weight="bold" fill="#111" stroke="#111" stroke-width="0.22">140</text><text x="497.4" y="156.7" font-size="9.5" text-anchor="middle" font-family="Liberation Serif, serif" font-weight="bold" fill="#111" stroke="#111" stroke-width="0.22">150</text><text x="34.8" y="316" font-size="11.9" text-anchor="end" font-family="Liberation Serif, serif" font-weight="bold" fill="#111" stroke="#111" stroke-width="0.22">0</text><text x="34.8" y="292.9" font-size="11.9" text-anchor="end" font-family="Liberation Serif, serif" font-weight="bold" fill="#111" stroke="#111" stroke-width="0.22">5</text><text x="34.8" y="269.7" font-size="11.9" text-anchor="end" font-family="Liberation Serif, serif" font-weight="bold" fill="#111" stroke="#111" stroke-width="0.22">10</text><text x="34.8" y="246.6" font-size="11.9" text-anchor="end" font-family="Liberation Serif, serif" font-weight="bold" fill="#111" stroke="#111" stroke-width="0.22">15</text><text x="34.8" y="223.4" font-size="11.9" text-anchor="end" font-family="Liberation Serif, serif" font-weight="bold" fill="#111" stroke="#111" stroke-width="0.22">20</text><text x="34.8" y="200.3" font-size="11.9" text-anchor="end" font-family="Liberation Serif, serif" font-weight="bold" fill="#111" stroke="#111" stroke-width="0.22">25</text><text x="61.9" y="326.5" font-size="11.9" text-anchor="middle" font-family="Liberation Serif, serif" font-weight="bold" fill="#111" stroke="#111" stroke-width="0.22">110</text><text x="108.2" y="326.5" font-size="11.9" text-anchor="middle" font-family="Liberation Serif, serif" font-weight="bold" fill="#111" stroke="#111" stroke-width="0.22">120</text><text x="154.6" y="326.5" font-size="11.9" text-anchor="middle" font-family="Liberation Serif, serif" font-weight="bold" fill="#111" stroke="#111" stroke-width="0.22">130</text><text x="200.8" y="326.5" font-size="11.9" text-anchor="middle" font-family="Liberation Serif, serif" font-weight="bold" fill="#111" stroke="#111" stroke-width="0.22">140</text><text x="247.1" y="326.5" font-size="11.9" text-anchor="middle" font-family="Liberation Serif, serif" font-weight="bold" fill="#111" stroke="#111" stroke-width="0.22">150</text><text x="285" y="316" font-size="11.9" text-anchor="end" font-family="Liberation Serif, serif" font-weight="bold" fill="#111" stroke="#111" stroke-width="0.22">0</text><text x="285" y="292.9" font-size="11.9" text-anchor="end" font-family="Liberation Serif, serif" font-weight="bold" fill="#111" stroke="#111" stroke-width="0.22">5</text><text x="285" y="269.7" font-size="11.9" text-anchor="end" font-family="Liberation Serif, serif" font-weight="bold" fill="#111" stroke="#111" stroke-width="0.22">10</text><text x="285" y="246.6" font-size="11.9" text-anchor="end" font-family="Liberation Serif, serif" font-weight="bold" fill="#111" stroke="#111" stroke-width="0.22">15</text><text x="285" y="223.4" font-size="11.9" text-anchor="end" font-family="Liberation Serif, serif" font-weight="bold" fill="#111" stroke="#111" stroke-width="0.22">20</text><text x="285" y="200.3" font-size="11.9" text-anchor="end" font-family="Liberation Serif, serif" font-weight="bold" fill="#111" stroke="#111" stroke-width="0.22">25</text><text x="312.1" y="326.5" font-size="11.9" text-anchor="middle" font-family="Liberation Serif, serif" font-weight="bold" fill="#111" stroke="#111" stroke-width="0.22">110</text><text x="358.4" y="326.5" font-size="11.9" text-anchor="middle" font-family="Liberation Serif, serif" font-weight="bold" fill="#111" stroke="#111" stroke-width="0.22">120</text><text x="404.8" y="326.5" font-size="11.9" text-anchor="middle" font-family="Liberation Serif, serif" font-weight="bold" fill="#111" stroke="#111" stroke-width="0.22">130</text><text x="451" y="326.5" font-size="11.9" text-anchor="middle" font-family="Liberation Serif, serif" font-weight="bold" fill="#111" stroke="#111" stroke-width="0.22">140</text><text x="497.4" y="326.5" font-size="11.9" text-anchor="middle" font-family="Liberation Serif, serif" font-weight="bold" fill="#111" stroke="#111" stroke-width="0.22">150</text><text transform="translate(18.3,83.3) rotate(-90)" font-size="12" text-anchor="middle" font-family="Liberation Serif, serif" font-weight="bold" fill="#111" stroke="#111" stroke-width="0.22">Latitude</text><text transform="translate(18.3,249.5) rotate(-90)" font-size="12" text-anchor="middle" font-family="Liberation Serif, serif" font-weight="bold" fill="#111" stroke="#111" stroke-width="0.22">Latitude</text><text x="143" y="341" font-size="12" text-anchor="middle" font-family="Liberation Serif, serif" font-weight="bold" fill="#111" stroke="#111" stroke-width="0.22">Longitude</text><text x="393.2" y="341" font-size="12" text-anchor="middle" font-family="Liberation Serif, serif" font-weight="bold" fill="#111" stroke="#111" stroke-width="0.22">Longitude</text><path d="M52.9,25.3H70.8" stroke="#111" stroke-width="0.9"/><text x="52.9" y="32.7" font-size="7.8" font-family="Liberation Serif, serif" font-weight="bold" fill="#111" stroke="#111" stroke-width="0.22">2m/s</text><rect x="509" y="159.7" width="5.9" height="10.7" fill="#fff34b"/><rect x="509" y="149.3" width="5.9" height="10.7" fill="#ffe42a"/><rect x="509" y="138.9" width="5.9" height="10.7" fill="#ffcd1c"/><rect x="509" y="128.6" width="5.9" height="10.7" fill="#ffb216"/><rect x="509" y="118.2" width="5.9" height="10.7" fill="#ff9412"/><rect x="509" y="107.8" width="5.9" height="10.7" fill="#ff700e"/><rect x="509" y="97.4" width="5.9" height="10.7" fill="#ff460a"/><rect x="509" y="87" width="5.9" height="10.7" fill="#f61208"/><rect x="509" y="170.1" width="5.9" height="10.7" fill="#78f8fa"/><rect x="509" y="180.5" width="5.9" height="10.7" fill="#00e8fa"/><rect x="509" y="190.9" width="5.9" height="10.7" fill="#00d2fc"/><rect x="509" y="201.3" width="5.9" height="10.7" fill="#00baff"/><rect x="509" y="211.6" width="5.9" height="10.7" fill="#00a0ff"/><rect x="509" y="222" width="5.9" height="10.7" fill="#1484fa"/><rect x="509" y="232.4" width="5.9" height="10.7" fill="#1e66f0"/><rect x="509" y="242.8" width="5.9" height="10.4" fill="#1e48e0"/><rect x="509" y="87" width="5.9" height="166.2" fill="none" stroke="#554" stroke-width="0.4"/><text x="519.8" y="91.3" font-family="Liberation Serif, serif" font-weight="bold" fill="#111" stroke="#111" stroke-width="0.2" font-size="10.4">0.05</text><text x="519.8" y="173.5" font-family="Liberation Serif, serif" font-weight="bold" fill="#111" stroke="#111" stroke-width="0.2" font-size="10.4">0</text><text x="519.8" y="257.1" font-family="Liberation Serif, serif" font-weight="bold" fill="#111" stroke="#111" stroke-width="0.2" font-size="10.4">-0.05</text></svg></body></html>
